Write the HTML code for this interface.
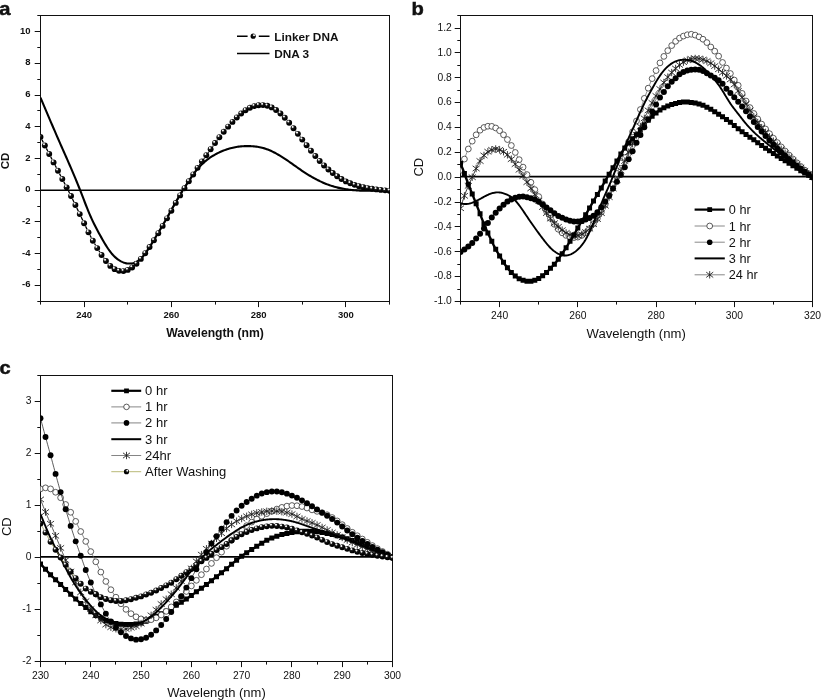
<!DOCTYPE html>
<html lang="en"><head><meta charset="utf-8"><title>CD spectra</title>
<style>html,body{margin:0;padding:0;background:#fff}svg{display:block}</style></head>
<body>
<svg width="821" height="700" viewBox="0 0 821 700">
<defs><radialGradient id="sg" cx="0.36" cy="0.30" r="0.5" fx="0.35" fy="0.28"><stop offset="0" stop-color="#fff"/><stop offset="0.18" stop-color="#eee"/><stop offset="0.46" stop-color="#1a1a1a"/><stop offset="1" stop-color="#000"/></radialGradient>
<circle id="sph" r="2.95" fill="url(#sg)"/>
<radialGradient id="sg2" cx="0.64" cy="0.32" r="0.5" fx="0.66" fy="0.30"><stop offset="0" stop-color="#fff"/><stop offset="0.2" stop-color="#eee"/><stop offset="0.5" stop-color="#1a1a1a"/><stop offset="1" stop-color="#000"/></radialGradient><circle id="sph2" r="2.6" fill="url(#sg2)"/>
<clipPath id="ca"><rect x="40.5" y="15.5" width="349.5" height="286"/></clipPath>
<clipPath id="cb"><rect x="460.5" y="15.5" width="352.5" height="286"/></clipPath>
<clipPath id="cc"><rect x="40.5" y="375.5" width="352.5" height="286"/></clipPath>
</defs>
<rect width="821" height="700" fill="#fff"/>
<rect x="40.5" y="15.5" width="349" height="286" fill="none" stroke="#111" stroke-width="1"/>
<path d="M84.5 301.5v5.6M171.5 301.5v5.6M258.5 301.5v5.6M345.5 301.5v5.6M40.5 301.5v3.1M127.5 301.5v3.1M215.5 301.5v3.1M302.5 301.5v3.1M389.5 301.5v3.1M40.5 285.5h-5.8M40.5 253.5h-5.8M40.5 221.5h-5.8M40.5 190.5h-5.8M40.5 158.5h-5.8M40.5 126.5h-5.8M40.5 95.5h-5.8M40.5 63.5h-5.8M40.5 31.5h-5.8M40.5 301.5h-3.2M40.5 269.5h-3.2M40.5 237.5h-3.2M40.5 206.5h-3.2M40.5 174.5h-3.2M40.5 142.5h-3.2M40.5 110.5h-3.2M40.5 79.5h-3.2M40.5 47.5h-3.2M40.5 15.5h-3.2" fill="none" stroke="#111" stroke-width="1"/>
<g font-family="'Liberation Sans', Arial, Helvetica, sans-serif" font-size="9.5" font-weight="bold" fill="#111">
<text x="84.12" y="318.2" text-anchor="middle">240</text>
<text x="171.38" y="318.2" text-anchor="middle">260</text>
<text x="258.62" y="318.2" text-anchor="middle">280</text>
<text x="345.88" y="318.2" text-anchor="middle">300</text>
<text x="30.5" y="287.38" text-anchor="end">-6</text>
<text x="30.5" y="255.66" text-anchor="end">-4</text>
<text x="30.5" y="223.94" text-anchor="end">-2</text>
<text x="30.5" y="192.22" text-anchor="end">0</text>
<text x="30.5" y="160.5" text-anchor="end">2</text>
<text x="30.5" y="128.78" text-anchor="end">4</text>
<text x="30.5" y="97.06" text-anchor="end">6</text>
<text x="30.5" y="65.34" text-anchor="end">8</text>
<text x="30.5" y="33.62" text-anchor="end">10</text>
</g>
<text x="215" y="337.3" text-anchor="middle" font-family="'Liberation Sans', Arial, Helvetica, sans-serif" font-size="12.2" font-weight="bold" fill="#111">Wavelength (nm)</text>
<text transform="translate(9.2 161) rotate(-90)" text-anchor="middle" font-family="'Liberation Sans', Arial, Helvetica, sans-serif" font-size="11.5" font-weight="bold" fill="#111">CD</text>
<g clip-path="url(#ca)">
<path d="M40.5 190.15H389.5" stroke="#000" stroke-width="1.5"/>
<path d="M42.01 139.89L43.36 142.51M46.37 148.39L47.72 151.01M50.74 156.88L52.07 159.46M55.12 165.31L56.42 167.78M59.49 173.62L60.77 176.06M63.84 181.9L65.15 184.43M68.16 190.31L69.55 193.08M72.48 198.99L73.95 202.01M76.82 207.95L78.34 211.12M81.17 217.08L82.71 220.34M85.56 226.3L87.05 229.4M90.02 235.3L91.32 237.78M94.53 243.54L95.54 245.26M98.99 250.88L99.8 252.14M103.49 257.61L104.02 258.36M142.85 256.31L143.19 255.87M147.09 250.54L147.67 249.71M151.37 244.24L152.12 243.09M155.66 237.52L156.55 236.08M159.97 230.43L160.97 228.74M164.3 223.04L165.36 221.21M168.64 215.48L169.74 213.54M172.99 207.8L174.12 205.8M177.39 200.07L178.45 198.23M181.82 192.56L182.74 191.06M186.22 185.45L187.07 184.1M190.59 178.51L191.42 177.21M195.01 171.68L195.73 170.6M199.42 165.13L200.04 164.22M203.82 158.8L204.37 158.02M208.19 152.64L208.72 151.91M212.55 146.53L213.09 145.77M216.97 140.43L217.4 139.85M295.53 130.8L295.88 131.25M299.88 136.5L300.26 137M304.26 142.25L304.61 142.7M308.66 147.91L308.92 148.24" fill="none" stroke="#000" stroke-width="1.3"/>
<path d="M40.5 97.6 L41.67 100.35 L42.83 103.1 L44 105.85 L45.16 108.6 L46.33 111.35 L47.5 114.09 L48.66 116.83 L49.83 119.56 L50.99 122.29 L52.16 125.01 L53.32 127.73 L54.49 130.43 L55.66 133.13 L56.82 135.82 L57.99 138.5 L59.15 141.17 L60.32 143.83 L61.49 146.48 L62.65 149.12 L63.82 151.76 L64.98 154.39 L66.15 157.03 L67.32 159.68 L68.48 162.33 L69.65 165 L70.81 167.69 L71.98 170.4 L73.14 173.13 L74.31 175.88 L75.48 178.67 L76.64 181.49 L77.81 184.35 L78.97 187.25 L80.14 190.19 L81.31 193.18 L82.47 196.2 L83.64 199.23 L84.8 202.25 L85.97 205.25 L87.14 208.19 L88.3 211.07 L89.47 213.86 L90.63 216.54 L91.8 219.12 L92.96 221.59 L94.13 223.98 L95.3 226.3 L96.46 228.55 L97.63 230.74 L98.79 232.9 L99.96 235.03 L101.13 237.13 L102.29 239.21 L103.46 241.25 L104.62 243.23 L105.79 245.15 L106.96 247 L108.12 248.77 L109.29 250.43 L110.45 251.99 L111.62 253.44 L112.78 254.77 L113.95 256 L115.12 257.13 L116.28 258.16 L117.45 259.09 L118.61 259.92 L119.78 260.67 L120.95 261.33 L122.11 261.9 L123.28 262.39 L124.44 262.8 L125.61 263.12 L126.78 263.35 L127.94 263.49 L129.11 263.56 L130.27 263.53 L131.44 263.41 L132.61 263.21 L133.77 262.91 L134.94 262.52 L136.1 262.04 L137.27 261.44 L138.43 260.72 L139.6 259.84 L140.77 258.8 L141.93 257.59 L143.1 256.25 L144.26 254.78 L145.43 253.21 L146.6 251.56 L147.76 249.84 L148.93 248.05 L150.09 246.21 L151.26 244.33 L152.43 242.42 L153.59 240.48 L154.76 238.54 L155.92 236.58 L157.09 234.62 L158.25 232.64 L159.42 230.66 L160.59 228.68 L161.75 226.69 L162.92 224.7 L164.08 222.71 L165.25 220.71 L166.42 218.69 L167.58 216.67 L168.75 214.63 L169.91 212.56 L171.08 210.48 L172.25 208.37 L173.41 206.25 L174.58 204.13 L175.74 202.02 L176.91 199.94 L178.07 197.9 L179.24 195.9 L180.41 193.97 L181.57 192.09 L182.74 190.26 L183.9 188.46 L185.07 186.69 L186.24 184.93 L187.4 183.16 L188.57 181.39 L189.73 179.61 L190.9 177.83 L192.07 176.09 L193.23 174.42 L194.4 172.82 L195.56 171.3 L196.73 169.85 L197.89 168.48 L199.06 167.18 L200.23 165.94 L201.39 164.77 L202.56 163.65 L203.72 162.59 L204.89 161.58 L206.06 160.62 L207.22 159.7 L208.39 158.83 L209.55 157.99 L210.72 157.2 L211.89 156.44 L213.05 155.72 L214.22 155.04 L215.38 154.38 L216.55 153.76 L217.71 153.17 L218.88 152.6 L220.05 152.06 L221.21 151.54 L222.38 151.04 L223.54 150.57 L224.71 150.13 L225.88 149.71 L227.04 149.31 L228.21 148.94 L229.37 148.59 L230.54 148.27 L231.71 147.97 L232.87 147.69 L234.04 147.44 L235.2 147.21 L236.37 147 L237.53 146.82 L238.7 146.66 L239.87 146.52 L241.03 146.4 L242.2 146.3 L243.36 146.22 L244.53 146.16 L245.7 146.12 L246.86 146.1 L248.03 146.1 L249.19 146.11 L250.36 146.14 L251.53 146.19 L252.69 146.26 L253.86 146.36 L255.02 146.47 L256.19 146.61 L257.35 146.78 L258.52 146.97 L259.69 147.19 L260.85 147.44 L262.02 147.71 L263.18 148.02 L264.35 148.37 L265.52 148.74 L266.68 149.15 L267.85 149.58 L269.01 150.05 L270.18 150.54 L271.35 151.06 L272.51 151.61 L273.68 152.19 L274.84 152.79 L276.01 153.41 L277.17 154.05 L278.34 154.72 L279.51 155.41 L280.67 156.11 L281.84 156.84 L283 157.58 L284.17 158.33 L285.34 159.1 L286.5 159.89 L287.67 160.68 L288.83 161.49 L290 162.3 L291.17 163.12 L292.33 163.95 L293.5 164.78 L294.66 165.61 L295.83 166.44 L296.99 167.27 L298.16 168.1 L299.33 168.92 L300.49 169.73 L301.66 170.53 L302.82 171.32 L303.99 172.09 L305.16 172.85 L306.32 173.59 L307.49 174.32 L308.65 175.04 L309.82 175.74 L310.99 176.42 L312.15 177.09 L313.32 177.75 L314.48 178.39 L315.65 179.01 L316.82 179.62 L317.98 180.21 L319.15 180.79 L320.31 181.36 L321.48 181.9 L322.64 182.43 L323.81 182.94 L324.98 183.44 L326.14 183.91 L327.31 184.37 L328.47 184.8 L329.64 185.22 L330.81 185.62 L331.97 185.99 L333.14 186.35 L334.3 186.69 L335.47 187.01 L336.64 187.32 L337.8 187.61 L338.97 187.88 L340.13 188.14 L341.3 188.38 L342.46 188.61 L343.63 188.83 L344.8 189.04 L345.96 189.23 L347.13 189.41 L348.29 189.57 L349.46 189.73 L350.63 189.87 L351.79 190 L352.96 190.12 L354.12 190.22 L355.29 190.31 L356.46 190.4 L357.62 190.47 L358.79 190.53 L359.95 190.59 L361.12 190.63 L362.28 190.67 L363.45 190.7 L364.62 190.73 L365.78 190.75 L366.95 190.77 L368.11 190.78 L369.28 190.79 L370.45 190.8 L371.61 190.8 L372.78 190.8 L373.94 190.8 L375.11 190.8 L376.28 190.8 L377.44 190.8 L378.61 190.8 L379.77 190.8 L380.94 190.8 L382.1 190.8 L383.27 190.8 L384.44 190.8 L385.6 190.8 L386.77 190.8 L387.93 190.8 L389.1 190.8" fill="none" stroke="#000" stroke-width="2.1" stroke-linejoin="round" />
<g><use href="#sph" x="40.5" y="136.95"/><use href="#sph" x="44.86" y="145.45"/><use href="#sph" x="49.23" y="153.95"/><use href="#sph" x="53.59" y="162.39"/><use href="#sph" x="57.95" y="170.7"/><use href="#sph" x="62.31" y="178.97"/><use href="#sph" x="66.67" y="187.36"/><use href="#sph" x="71.04" y="196.02"/><use href="#sph" x="75.4" y="204.97"/><use href="#sph" x="79.76" y="214.1"/><use href="#sph" x="84.12" y="223.32"/><use href="#sph" x="88.49" y="232.37"/><use href="#sph" x="92.85" y="240.7"/><use href="#sph" x="97.21" y="248.1"/><use href="#sph" x="101.58" y="254.93"/><use href="#sph" x="105.94" y="261.05"/><use href="#sph" x="110.3" y="265.9"/><use href="#sph" x="114.66" y="269.15"/><use href="#sph" x="119.03" y="270.85"/><use href="#sph" x="123.39" y="271.1"/><use href="#sph" x="127.75" y="269.9"/><use href="#sph" x="132.11" y="267.45"/><use href="#sph" x="136.47" y="263.77"/><use href="#sph" x="140.84" y="258.92"/><use href="#sph" x="145.2" y="253.25"/><use href="#sph" x="149.56" y="247"/><use href="#sph" x="153.93" y="240.32"/><use href="#sph" x="158.29" y="233.27"/><use href="#sph" x="162.65" y="225.9"/><use href="#sph" x="167.01" y="218.35"/><use href="#sph" x="171.38" y="210.68"/><use href="#sph" x="175.74" y="202.92"/><use href="#sph" x="180.1" y="195.38"/><use href="#sph" x="184.46" y="188.25"/><use href="#sph" x="188.82" y="181.3"/><use href="#sph" x="193.19" y="174.43"/><use href="#sph" x="197.55" y="167.85"/><use href="#sph" x="201.91" y="161.5"/><use href="#sph" x="206.28" y="155.32"/><use href="#sph" x="210.64" y="149.22"/><use href="#sph" x="215" y="143.07"/><use href="#sph" x="219.36" y="137.2"/><use href="#sph" x="223.72" y="131.77"/><use href="#sph" x="228.09" y="126.65"/><use href="#sph" x="232.45" y="121.88"/><use href="#sph" x="236.81" y="117.5"/><use href="#sph" x="241.18" y="113.55"/><use href="#sph" x="245.54" y="110.28"/><use href="#sph" x="249.9" y="107.8"/><use href="#sph" x="254.26" y="106.1"/><use href="#sph" x="258.62" y="105.2"/><use href="#sph" x="262.99" y="105.08"/><use href="#sph" x="267.35" y="105.77"/><use href="#sph" x="271.71" y="107.4"/><use href="#sph" x="276.07" y="109.98"/><use href="#sph" x="280.44" y="113.45"/><use href="#sph" x="284.8" y="117.75"/><use href="#sph" x="289.16" y="122.73"/><use href="#sph" x="293.52" y="128.18"/><use href="#sph" x="297.89" y="133.87"/><use href="#sph" x="302.25" y="139.62"/><use href="#sph" x="306.61" y="145.32"/><use href="#sph" x="310.98" y="150.82"/><use href="#sph" x="315.34" y="156.05"/><use href="#sph" x="319.7" y="160.95"/><use href="#sph" x="324.06" y="165.45"/><use href="#sph" x="328.43" y="169.5"/><use href="#sph" x="332.79" y="173.05"/><use href="#sph" x="337.15" y="176.22"/><use href="#sph" x="341.51" y="179.05"/><use href="#sph" x="345.88" y="181.4"/><use href="#sph" x="350.24" y="183.3"/><use href="#sph" x="354.6" y="184.85"/><use href="#sph" x="358.96" y="186.15"/><use href="#sph" x="363.32" y="187.22"/><use href="#sph" x="367.69" y="188.1"/><use href="#sph" x="372.05" y="188.82"/><use href="#sph" x="376.41" y="189.4"/><use href="#sph" x="380.77" y="189.9"/><use href="#sph" x="385.14" y="190.35"/><use href="#sph" x="389.5" y="190.7"/></g>
</g>
<text transform="translate(-0.8 15.3) scale(1.08 1)" font-family="'Liberation Sans', Arial, Helvetica, sans-serif" font-size="18.6" font-weight="bold" fill="#111" stroke="#111" stroke-width="0.5">a</text>
<path d="M237 36.2H247.6M258.8 36.2H269.5M237 53.6H269.5" stroke="#000" stroke-width="1.5" fill="none"/>
<use href="#sph2" x="253.2" y="36.2"/>
<g font-family="'Liberation Sans', Arial, Helvetica, sans-serif" font-size="11.8" font-weight="bold" fill="#111"><text x="274.2" y="40.6">Linker DNA</text><text x="274.2" y="58">DNA 3</text></g>
<rect x="460.5" y="15.5" width="352" height="286" fill="none" stroke="#111" stroke-width="1"/>
<path d="M499.5 301.5v5.6M577.5 301.5v5.6M656.5 301.5v5.6M734.5 301.5v5.6M812.5 301.5v5.6M460.5 301.5v3.1M538.5 301.5v3.1M616.5 301.5v3.1M695.5 301.5v3.1M773.5 301.5v3.1M460.5 301.5h-5.8M460.5 276.5h-5.8M460.5 251.5h-5.8M460.5 226.5h-5.8M460.5 202.5h-5.8M460.5 177.5h-5.8M460.5 152.5h-5.8M460.5 127.5h-5.8M460.5 102.5h-5.8M460.5 77.5h-5.8M460.5 52.5h-5.8M460.5 28.5h-5.8M460.5 289.5h-3.2M460.5 264.5h-3.2M460.5 239.5h-3.2M460.5 214.5h-3.2M460.5 189.5h-3.2M460.5 164.5h-3.2M460.5 139.5h-3.2M460.5 115.5h-3.2M460.5 90.5h-3.2M460.5 65.5h-3.2M460.5 40.5h-3.2M460.5 15.5h-3.2" fill="none" stroke="#111" stroke-width="1"/>
<g font-family="'Liberation Sans', Arial, Helvetica, sans-serif" font-size="10.3" font-weight="normal" fill="#111">
<text x="499.61" y="319.1" text-anchor="middle">240</text>
<text x="577.83" y="319.1" text-anchor="middle">260</text>
<text x="656.06" y="319.1" text-anchor="middle">280</text>
<text x="734.28" y="319.1" text-anchor="middle">300</text>
<text x="812.5" y="319.1" text-anchor="middle">320</text>
<text x="451.8" y="304.31" text-anchor="end">-1.0</text>
<text x="451.8" y="279.45" text-anchor="end">-0.8</text>
<text x="451.8" y="254.59" text-anchor="end">-0.6</text>
<text x="451.8" y="229.73" text-anchor="end">-0.4</text>
<text x="451.8" y="204.87" text-anchor="end">-0.2</text>
<text x="451.8" y="180.01" text-anchor="end">0.0</text>
<text x="451.8" y="155.15" text-anchor="end">0.2</text>
<text x="451.8" y="130.29" text-anchor="end">0.4</text>
<text x="451.8" y="105.43" text-anchor="end">0.6</text>
<text x="451.8" y="80.57" text-anchor="end">0.8</text>
<text x="451.8" y="55.71" text-anchor="end">1.0</text>
<text x="451.8" y="30.85" text-anchor="end">1.2</text>
</g>
<text x="636.2" y="337.8" text-anchor="middle" font-family="'Liberation Sans', Arial, Helvetica, sans-serif" font-size="13.1" font-weight="normal" fill="#111">Wavelength (nm)</text>
<text transform="translate(423.3 167.2) rotate(-90)" text-anchor="middle" font-family="'Liberation Sans', Arial, Helvetica, sans-serif" font-size="13" font-weight="normal" fill="#111">CD</text>
<g clip-path="url(#cb)">
<path d="M460.5 176.6H812.5" stroke="#000" stroke-width="1.6"/>
<path d="M460.5 170.36 L461.21 168.29 L461.91 166.22 L462.62 164.17 L463.32 162.14 L464.03 160.13 L464.73 158.16 L465.44 156.23 L466.14 154.35 L466.85 152.54 L467.55 150.79 L468.26 149.13 L468.96 147.55 L469.67 146.06 L470.38 144.63 L471.08 143.27 L471.79 141.96 L472.49 140.69 L473.2 139.46 L473.9 138.27 L474.61 137.13 L475.31 136.03 L476.02 134.99 L476.72 134.01 L477.43 133.09 L478.14 132.23 L478.84 131.44 L479.55 130.7 L480.25 130.04 L480.96 129.43 L481.66 128.88 L482.37 128.39 L483.07 127.96 L483.78 127.57 L484.48 127.24 L485.19 126.95 L485.89 126.7 L486.6 126.5 L487.31 126.34 L488.01 126.22 L488.72 126.14 L489.42 126.11 L490.13 126.12 L490.83 126.19 L491.54 126.31 L492.24 126.48 L492.95 126.7 L493.65 126.97 L494.36 127.29 L495.07 127.64 L495.77 128.02 L496.48 128.42 L497.18 128.86 L497.89 129.34 L498.59 129.87 L499.3 130.44 L500 131.07 L500.71 131.75 L501.41 132.48 L502.12 133.24 L502.82 134.03 L503.53 134.82 L504.24 135.63 L504.94 136.44 L505.65 137.27 L506.35 138.14 L507.06 139.04 L507.76 139.99 L508.47 140.98 L509.17 142.03 L509.88 143.11 L510.58 144.24 L511.29 145.41 L511.99 146.61 L512.7 147.85 L513.41 149.11 L514.11 150.38 L514.82 151.66 L515.52 152.95 L516.23 154.24 L516.93 155.53 L517.64 156.83 L518.34 158.14 L519.05 159.45 L519.75 160.78 L520.46 162.13 L521.17 163.47 L521.87 164.82 L522.58 166.17 L523.28 167.52 L523.99 168.86 L524.69 170.19 L525.4 171.53 L526.1 172.88 L526.81 174.24 L527.51 175.62 L528.22 177.01 L528.92 178.4 L529.63 179.8 L530.34 181.19 L531.04 182.57 L531.75 183.93 L532.45 185.28 L533.16 186.6 L533.86 187.91 L534.57 189.19 L535.27 190.46 L535.98 191.71 L536.68 192.95 L537.39 194.2 L538.1 195.46 L538.8 196.73 L539.51 198.04 L540.21 199.36 L540.92 200.7 L541.62 202.06 L542.33 203.42 L543.03 204.79 L543.74 206.15 L544.44 207.5 L545.15 208.85 L545.85 210.18 L546.56 211.49 L547.27 212.79 L547.97 214.07 L548.68 215.32 L549.38 216.55 L550.09 217.75 L550.79 218.92 L551.5 220.06 L552.2 221.17 L552.91 222.24 L553.61 223.28 L554.32 224.28 L555.03 225.24 L555.73 226.17 L556.44 227.06 L557.14 227.91 L557.85 228.72 L558.55 229.5 L559.26 230.23 L559.96 230.92 L560.67 231.58 L561.37 232.19 L562.08 232.77 L562.78 233.31 L563.49 233.82 L564.2 234.3 L564.9 234.74 L565.61 235.15 L566.31 235.53 L567.02 235.88 L567.72 236.2 L568.43 236.49 L569.13 236.75 L569.84 236.97 L570.54 237.17 L571.25 237.33 L571.95 237.45 L572.66 237.55 L573.37 237.6 L574.07 237.62 L574.78 237.6 L575.48 237.55 L576.19 237.46 L576.89 237.33 L577.6 237.17 L578.3 236.97 L579.01 236.73 L579.71 236.45 L580.42 236.14 L581.13 235.78 L581.83 235.39 L582.54 234.97 L583.24 234.5 L583.95 234 L584.65 233.46 L585.36 232.88 L586.06 232.27 L586.77 231.62 L587.47 230.94 L588.18 230.22 L588.88 229.46 L589.59 228.67 L590.3 227.85 L591 227 L591.71 226.12 L592.41 225.22 L593.12 224.3 L593.82 223.36 L594.53 222.4 L595.23 221.42 L595.94 220.43 L596.64 219.42 L597.35 218.4 L598.06 217.35 L598.76 216.27 L599.47 215.17 L600.17 214.02 L600.88 212.84 L601.58 211.62 L602.29 210.35 L602.99 209.02 L603.7 207.65 L604.4 206.22 L605.11 204.73 L605.81 203.19 L606.52 201.6 L607.23 199.95 L607.93 198.24 L608.64 196.47 L609.34 194.65 L610.05 192.77 L610.75 190.85 L611.46 188.9 L612.16 186.92 L612.87 184.92 L613.57 182.92 L614.28 180.91 L614.98 178.93 L615.69 176.96 L616.4 175.02 L617.1 173.09 L617.81 171.18 L618.51 169.28 L619.22 167.37 L619.92 165.46 L620.63 163.53 L621.33 161.58 L622.04 159.62 L622.74 157.65 L623.45 155.68 L624.16 153.72 L624.86 151.77 L625.57 149.84 L626.27 147.94 L626.98 146.08 L627.68 144.26 L628.39 142.46 L629.09 140.69 L629.8 138.92 L630.5 137.14 L631.21 135.35 L631.91 133.54 L632.62 131.69 L633.33 129.81 L634.03 127.9 L634.74 125.95 L635.44 123.98 L636.15 121.98 L636.85 119.95 L637.56 117.9 L638.26 115.84 L638.97 113.76 L639.67 111.68 L640.38 109.6 L641.09 107.53 L641.79 105.47 L642.5 103.44 L643.2 101.45 L643.91 99.5 L644.61 97.6 L645.32 95.73 L646.02 93.89 L646.73 92.06 L647.43 90.23 L648.14 88.4 L648.84 86.57 L649.55 84.77 L650.26 83.01 L650.96 81.31 L651.67 79.68 L652.37 78.13 L653.08 76.63 L653.78 75.18 L654.49 73.75 L655.19 72.33 L655.9 70.89 L656.6 69.45 L657.31 68.02 L658.02 66.6 L658.72 65.22 L659.43 63.88 L660.13 62.6 L660.84 61.36 L661.54 60.16 L662.25 58.99 L662.95 57.85 L663.66 56.73 L664.36 55.63 L665.07 54.55 L665.77 53.5 L666.48 52.47 L667.19 51.46 L667.89 50.48 L668.6 49.52 L669.3 48.59 L670.01 47.68 L670.71 46.79 L671.42 45.93 L672.12 45.09 L672.83 44.28 L673.53 43.49 L674.24 42.73 L674.94 41.99 L675.65 41.29 L676.36 40.62 L677.06 39.98 L677.77 39.39 L678.47 38.83 L679.18 38.33 L679.88 37.86 L680.59 37.45 L681.29 37.06 L682 36.71 L682.7 36.39 L683.41 36.09 L684.12 35.8 L684.82 35.54 L685.53 35.29 L686.23 35.07 L686.94 34.86 L687.64 34.68 L688.35 34.52 L689.05 34.39 L689.76 34.3 L690.46 34.25 L691.17 34.25 L691.87 34.3 L692.58 34.41 L693.29 34.55 L693.99 34.74 L694.7 34.96 L695.4 35.21 L696.11 35.48 L696.81 35.78 L697.52 36.1 L698.22 36.43 L698.93 36.79 L699.63 37.16 L700.34 37.55 L701.05 37.96 L701.75 38.4 L702.46 38.86 L703.16 39.35 L703.87 39.87 L704.57 40.43 L705.28 41.03 L705.98 41.67 L706.69 42.37 L707.39 43.11 L708.1 43.89 L708.8 44.7 L709.51 45.52 L710.22 46.33 L710.92 47.11 L711.63 47.87 L712.33 48.62 L713.04 49.36 L713.74 50.1 L714.45 50.86 L715.15 51.64 L715.86 52.45 L716.56 53.31 L717.27 54.21 L717.97 55.17 L718.68 56.2 L719.39 57.3 L720.09 58.44 L720.8 59.61 L721.5 60.79 L722.21 61.94 L722.91 63.05 L723.62 64.12 L724.32 65.16 L725.03 66.16 L725.73 67.13 L726.44 68.06 L727.15 68.98 L727.85 69.91 L728.56 70.85 L729.26 71.84 L729.97 72.9 L730.67 74.04 L731.38 75.25 L732.08 76.5 L732.79 77.73 L733.49 78.9 L734.2 79.95 L734.9 80.9 L735.61 81.79 L736.32 82.67 L737.02 83.59 L737.73 84.6 L738.43 85.76 L739.14 87.08 L739.84 88.52 L740.55 90.03 L741.25 91.56 L741.96 93.09 L742.66 94.57 L743.37 96 L744.08 97.39 L744.78 98.75 L745.49 100.06 L746.19 101.35 L746.9 102.59 L747.6 103.81 L748.31 105 L749.01 106.16 L749.72 107.29 L750.42 108.4 L751.13 109.49 L751.83 110.56 L752.54 111.61 L753.25 112.65 L753.95 113.67 L754.66 114.69 L755.36 115.68 L756.07 116.67 L756.77 117.65 L757.48 118.61 L758.18 119.57 L758.89 120.51 L759.59 121.44 L760.3 122.37 L761.01 123.28 L761.71 124.19 L762.42 125.09 L763.12 125.98 L763.83 126.86 L764.53 127.74 L765.24 128.61 L765.94 129.47 L766.65 130.32 L767.35 131.17 L768.06 132.02 L768.76 132.85 L769.47 133.68 L770.18 134.51 L770.88 135.33 L771.59 136.15 L772.29 136.96 L773 137.77 L773.7 138.58 L774.41 139.38 L775.11 140.18 L775.82 140.97 L776.52 141.76 L777.23 142.54 L777.93 143.33 L778.64 144.1 L779.35 144.88 L780.05 145.65 L780.76 146.41 L781.46 147.18 L782.17 147.93 L782.87 148.69 L783.58 149.44 L784.28 150.18 L784.99 150.92 L785.69 151.66 L786.4 152.39 L787.11 153.12 L787.81 153.84 L788.52 154.56 L789.22 155.28 L789.93 155.99 L790.63 156.7 L791.34 157.4 L792.04 158.1 L792.75 158.8 L793.45 159.49 L794.16 160.18 L794.86 160.87 L795.57 161.55 L796.28 162.23 L796.98 162.9 L797.69 163.58 L798.39 164.25 L799.1 164.91 L799.8 165.58 L800.51 166.24 L801.21 166.9 L801.92 167.55 L802.62 168.21 L803.33 168.86 L804.04 169.51 L804.74 170.15 L805.45 170.8 L806.15 171.44 L806.86 172.09 L807.56 172.73 L808.27 173.37 L808.97 174.01 L809.68 174.65 L810.38 175.29 L811.09 175.92 L811.79 176.56 L812.5 177.2" fill="none" stroke="#777" stroke-width="0.8" stroke-linejoin="round" />
<g fill="#fff" stroke="#333" stroke-width="0.8"><circle cx="460.5" cy="170.36" r="2.9"/><circle cx="464.41" cy="159.05" r="2.9"/><circle cx="468.32" cy="148.98" r="2.9"/><circle cx="472.23" cy="141.15" r="2.9"/><circle cx="476.14" cy="134.81" r="2.9"/><circle cx="480.06" cy="130.21" r="2.9"/><circle cx="483.97" cy="127.48" r="2.9"/><circle cx="487.88" cy="126.24" r="2.9"/><circle cx="491.79" cy="126.36" r="2.9"/><circle cx="495.7" cy="127.98" r="2.9"/><circle cx="499.61" cy="130.71" r="2.9"/><circle cx="503.52" cy="134.81" r="2.9"/><circle cx="507.43" cy="139.54" r="2.9"/><circle cx="511.34" cy="145.5" r="2.9"/><circle cx="515.26" cy="152.46" r="2.9"/><circle cx="519.17" cy="159.67" r="2.9"/><circle cx="523.08" cy="167.13" r="2.9"/><circle cx="526.99" cy="174.59" r="2.9"/><circle cx="530.9" cy="182.3" r="2.9"/><circle cx="534.81" cy="189.63" r="2.9"/><circle cx="538.72" cy="196.59" r="2.9"/><circle cx="542.63" cy="204.01" r="2.9"/><circle cx="546.54" cy="211.46" r="2.9"/><circle cx="550.46" cy="218.37" r="2.9"/><circle cx="554.37" cy="224.34" r="2.9"/><circle cx="558.28" cy="229.2" r="2.9"/><circle cx="562.19" cy="232.86" r="2.9"/><circle cx="566.1" cy="235.42" r="2.9"/><circle cx="570.01" cy="237.02" r="2.9"/><circle cx="573.92" cy="237.62" r="2.9"/><circle cx="577.83" cy="237.11" r="2.9"/><circle cx="581.74" cy="235.44" r="2.9"/><circle cx="585.66" cy="232.63" r="2.9"/><circle cx="589.57" cy="228.7" r="2.9"/><circle cx="593.48" cy="223.82" r="2.9"/><circle cx="597.39" cy="218.34" r="2.9"/><circle cx="601.3" cy="212.11" r="2.9"/><circle cx="605.21" cy="204.51" r="2.9"/><circle cx="609.12" cy="195.22" r="2.9"/><circle cx="613.03" cy="184.45" r="2.9"/><circle cx="616.94" cy="173.52" r="2.9"/><circle cx="620.86" cy="162.91" r="2.9"/><circle cx="624.77" cy="152.02" r="2.9"/><circle cx="628.68" cy="141.73" r="2.9"/><circle cx="632.59" cy="131.77" r="2.9"/><circle cx="636.5" cy="120.96" r="2.9"/><circle cx="640.41" cy="109.51" r="2.9"/><circle cx="644.32" cy="98.38" r="2.9"/><circle cx="648.23" cy="88.16" r="2.9"/><circle cx="652.14" cy="78.62" r="2.9"/><circle cx="656.06" cy="70.57" r="2.9"/><circle cx="659.97" cy="62.89" r="2.9"/><circle cx="663.88" cy="56.39" r="2.9"/><circle cx="667.79" cy="50.62" r="2.9"/><circle cx="671.7" cy="45.59" r="2.9"/><circle cx="675.61" cy="41.33" r="2.9"/><circle cx="679.52" cy="38.09" r="2.9"/><circle cx="683.43" cy="36.08" r="2.9"/><circle cx="687.34" cy="34.75" r="2.9"/><circle cx="691.26" cy="34.25" r="2.9"/><circle cx="695.17" cy="35.13" r="2.9"/><circle cx="699.08" cy="36.87" r="2.9"/><circle cx="702.99" cy="39.23" r="2.9"/><circle cx="706.9" cy="42.58" r="2.9"/><circle cx="710.81" cy="46.99" r="2.9"/><circle cx="714.72" cy="51.16" r="2.9"/><circle cx="718.63" cy="56.13" r="2.9"/><circle cx="722.54" cy="62.47" r="2.9"/><circle cx="726.46" cy="68.08" r="2.9"/><circle cx="730.37" cy="73.53" r="2.9"/><circle cx="734.28" cy="80.06" r="2.9"/><circle cx="738.19" cy="85.34" r="2.9"/><circle cx="742.1" cy="93.39" r="2.9"/><circle cx="746.01" cy="101.02" r="2.9"/><circle cx="749.92" cy="107.61" r="2.9"/><circle cx="753.83" cy="113.5" r="2.9"/><circle cx="757.74" cy="118.97" r="2.9"/><circle cx="761.66" cy="124.12" r="2.9"/><circle cx="765.57" cy="129.01" r="2.9"/><circle cx="769.48" cy="133.69" r="2.9"/><circle cx="773.39" cy="138.22" r="2.9"/><circle cx="777.3" cy="142.62" r="2.9"/><circle cx="781.21" cy="146.91" r="2.9"/><circle cx="785.12" cy="151.06" r="2.9"/><circle cx="789.03" cy="155.09" r="2.9"/><circle cx="792.94" cy="158.99" r="2.9"/><circle cx="796.86" cy="162.78" r="2.9"/><circle cx="800.77" cy="166.48" r="2.9"/><circle cx="804.68" cy="170.1" r="2.9"/><circle cx="808.59" cy="173.66" r="2.9"/><circle cx="812.5" cy="177.2" r="2.9"/></g>
<path d="M460.5 208.27 L461.21 205.93 L461.91 203.61 L462.62 201.33 L463.32 199.11 L464.03 196.97 L464.73 194.93 L465.44 192.99 L466.14 191.15 L466.85 189.39 L467.55 187.69 L468.26 186.05 L468.96 184.44 L469.67 182.86 L470.38 181.3 L471.08 179.75 L471.79 178.19 L472.49 176.62 L473.2 175.03 L473.9 173.44 L474.61 171.86 L475.31 170.29 L476.02 168.77 L476.72 167.29 L477.43 165.86 L478.14 164.48 L478.84 163.17 L479.55 161.91 L480.25 160.72 L480.96 159.59 L481.66 158.52 L482.37 157.51 L483.07 156.56 L483.78 155.67 L484.48 154.84 L485.19 154.07 L485.89 153.36 L486.6 152.71 L487.31 152.13 L488.01 151.63 L488.72 151.19 L489.42 150.82 L490.13 150.49 L490.83 150.2 L491.54 149.94 L492.24 149.7 L492.95 149.47 L493.65 149.27 L494.36 149.12 L495.07 149.02 L495.77 148.98 L496.48 149.02 L497.18 149.13 L497.89 149.29 L498.59 149.5 L499.3 149.74 L500 150 L500.71 150.29 L501.41 150.6 L502.12 150.93 L502.82 151.31 L503.53 151.72 L504.24 152.18 L504.94 152.68 L505.65 153.23 L506.35 153.83 L507.06 154.47 L507.76 155.15 L508.47 155.88 L509.17 156.65 L509.88 157.44 L510.58 158.27 L511.29 159.11 L511.99 159.97 L512.7 160.84 L513.41 161.73 L514.11 162.64 L514.82 163.56 L515.52 164.51 L516.23 165.47 L516.93 166.46 L517.64 167.47 L518.34 168.5 L519.05 169.56 L519.75 170.65 L520.46 171.76 L521.17 172.88 L521.87 174.01 L522.58 175.15 L523.28 176.28 L523.99 177.41 L524.69 178.53 L525.4 179.65 L526.1 180.77 L526.81 181.89 L527.51 183 L528.22 184.12 L528.92 185.25 L529.63 186.37 L530.34 187.49 L531.04 188.61 L531.75 189.73 L532.45 190.85 L533.16 191.98 L533.86 193.1 L534.57 194.22 L535.27 195.34 L535.98 196.46 L536.68 197.57 L537.39 198.7 L538.1 199.82 L538.8 200.94 L539.51 202.07 L540.21 203.2 L540.92 204.32 L541.62 205.45 L542.33 206.57 L543.03 207.69 L543.74 208.8 L544.44 209.9 L545.15 210.99 L545.85 212.07 L546.56 213.14 L547.27 214.18 L547.97 215.21 L548.68 216.21 L549.38 217.18 L550.09 218.13 L550.79 219.04 L551.5 219.92 L552.2 220.77 L552.91 221.57 L553.61 222.35 L554.32 223.09 L555.03 223.81 L555.73 224.51 L556.44 225.18 L557.14 225.83 L557.85 226.47 L558.55 227.1 L559.26 227.71 L559.96 228.32 L560.67 228.92 L561.37 229.5 L562.08 230.07 L562.78 230.62 L563.49 231.15 L564.2 231.65 L564.9 232.14 L565.61 232.6 L566.31 233.03 L567.02 233.43 L567.72 233.8 L568.43 234.14 L569.13 234.45 L569.84 234.72 L570.54 234.97 L571.25 235.18 L571.95 235.36 L572.66 235.5 L573.37 235.62 L574.07 235.7 L574.78 235.75 L575.48 235.76 L576.19 235.75 L576.89 235.69 L577.6 235.61 L578.3 235.49 L579.01 235.33 L579.71 235.14 L580.42 234.91 L581.13 234.64 L581.83 234.34 L582.54 234 L583.24 233.62 L583.95 233.21 L584.65 232.76 L585.36 232.27 L586.06 231.75 L586.77 231.19 L587.47 230.6 L588.18 229.97 L588.88 229.31 L589.59 228.61 L590.3 227.89 L591 227.13 L591.71 226.34 L592.41 225.52 L593.12 224.68 L593.82 223.81 L594.53 222.92 L595.23 222.01 L595.94 221.08 L596.64 220.12 L597.35 219.15 L598.06 218.15 L598.76 217.12 L599.47 216.06 L600.17 214.96 L600.88 213.83 L601.58 212.65 L602.29 211.42 L602.99 210.13 L603.7 208.8 L604.4 207.4 L605.11 205.95 L605.81 204.46 L606.52 202.94 L607.23 201.39 L607.93 199.81 L608.64 198.22 L609.34 196.63 L610.05 195.04 L610.75 193.46 L611.46 191.9 L612.16 190.35 L612.87 188.82 L613.57 187.3 L614.28 185.77 L614.98 184.24 L615.69 182.69 L616.4 181.13 L617.1 179.54 L617.81 177.92 L618.51 176.27 L619.22 174.58 L619.92 172.87 L620.63 171.14 L621.33 169.39 L622.04 167.65 L622.74 165.91 L623.45 164.19 L624.16 162.49 L624.86 160.82 L625.57 159.19 L626.27 157.58 L626.98 156.01 L627.68 154.45 L628.39 152.9 L629.09 151.36 L629.8 149.82 L630.5 148.27 L631.21 146.72 L631.91 145.15 L632.62 143.57 L633.33 142 L634.03 140.42 L634.74 138.84 L635.44 137.27 L636.15 135.71 L636.85 134.17 L637.56 132.63 L638.26 131.12 L638.97 129.61 L639.67 128.11 L640.38 126.62 L641.09 125.14 L641.79 123.66 L642.5 122.18 L643.2 120.71 L643.91 119.24 L644.61 117.78 L645.32 116.32 L646.02 114.87 L646.73 113.43 L647.43 112.01 L648.14 110.6 L648.84 109.2 L649.55 107.83 L650.26 106.47 L650.96 105.14 L651.67 103.82 L652.37 102.52 L653.08 101.24 L653.78 99.97 L654.49 98.71 L655.19 97.46 L655.9 96.21 L656.6 94.97 L657.31 93.72 L658.02 92.48 L658.72 91.23 L659.43 89.99 L660.13 88.75 L660.84 87.53 L661.54 86.33 L662.25 85.16 L662.95 84.01 L663.66 82.89 L664.36 81.81 L665.07 80.77 L665.77 79.77 L666.48 78.81 L667.19 77.89 L667.89 76.99 L668.6 76.13 L669.3 75.29 L670.01 74.48 L670.71 73.68 L671.42 72.9 L672.12 72.13 L672.83 71.37 L673.53 70.63 L674.24 69.89 L674.94 69.17 L675.65 68.47 L676.36 67.78 L677.06 67.11 L677.77 66.46 L678.47 65.84 L679.18 65.24 L679.88 64.67 L680.59 64.12 L681.29 63.6 L682 63.1 L682.7 62.64 L683.41 62.19 L684.12 61.78 L684.82 61.39 L685.53 61.02 L686.23 60.68 L686.94 60.37 L687.64 60.08 L688.35 59.81 L689.05 59.57 L689.76 59.35 L690.46 59.16 L691.17 59 L691.87 58.85 L692.58 58.74 L693.29 58.64 L693.99 58.57 L694.7 58.52 L695.4 58.5 L696.11 58.5 L696.81 58.52 L697.52 58.56 L698.22 58.63 L698.93 58.71 L699.63 58.82 L700.34 58.95 L701.05 59.1 L701.75 59.27 L702.46 59.46 L703.16 59.67 L703.87 59.89 L704.57 60.14 L705.28 60.4 L705.98 60.69 L706.69 60.99 L707.39 61.32 L708.1 61.66 L708.8 62.03 L709.51 62.43 L710.22 62.84 L710.92 63.28 L711.63 63.75 L712.33 64.23 L713.04 64.74 L713.74 65.26 L714.45 65.8 L715.15 66.35 L715.86 66.91 L716.56 67.49 L717.27 68.07 L717.97 68.67 L718.68 69.26 L719.39 69.86 L720.09 70.47 L720.8 71.07 L721.5 71.68 L722.21 72.29 L722.91 72.89 L723.62 73.5 L724.32 74.09 L725.03 74.69 L725.73 75.28 L726.44 75.87 L727.15 76.46 L727.85 77.07 L728.56 77.7 L729.26 78.35 L729.97 79.05 L730.67 79.79 L731.38 80.57 L732.08 81.42 L732.79 82.34 L733.49 83.32 L734.2 84.37 L734.9 85.46 L735.61 86.61 L736.32 87.78 L737.02 88.98 L737.73 90.19 L738.43 91.41 L739.14 92.62 L739.84 93.82 L740.55 95 L741.25 96.16 L741.96 97.3 L742.66 98.44 L743.37 99.57 L744.08 100.71 L744.78 101.85 L745.49 103 L746.19 104.16 L746.9 105.34 L747.6 106.54 L748.31 107.74 L749.01 108.94 L749.72 110.15 L750.42 111.34 L751.13 112.53 L751.83 113.7 L752.54 114.85 L753.25 115.98 L753.95 117.08 L754.66 118.16 L755.36 119.2 L756.07 120.22 L756.77 121.22 L757.48 122.19 L758.18 123.15 L758.89 124.08 L759.59 125 L760.3 125.91 L761.01 126.8 L761.71 127.68 L762.42 128.56 L763.12 129.42 L763.83 130.28 L764.53 131.12 L765.24 131.96 L765.94 132.8 L766.65 133.62 L767.35 134.44 L768.06 135.25 L768.76 136.05 L769.47 136.85 L770.18 137.64 L770.88 138.43 L771.59 139.2 L772.29 139.98 L773 140.74 L773.7 141.5 L774.41 142.26 L775.11 143.01 L775.82 143.76 L776.52 144.5 L777.23 145.23 L777.93 145.96 L778.64 146.69 L779.35 147.41 L780.05 148.13 L780.76 148.85 L781.46 149.56 L782.17 150.27 L782.87 150.97 L783.58 151.67 L784.28 152.37 L784.99 153.07 L785.69 153.76 L786.4 154.45 L787.11 155.14 L787.81 155.82 L788.52 156.5 L789.22 157.18 L789.93 157.86 L790.63 158.53 L791.34 159.19 L792.04 159.86 L792.75 160.51 L793.45 161.17 L794.16 161.82 L794.86 162.46 L795.57 163.1 L796.28 163.74 L796.98 164.37 L797.69 165 L798.39 165.62 L799.1 166.23 L799.8 166.84 L800.51 167.44 L801.21 168.04 L801.92 168.64 L802.62 169.23 L803.33 169.81 L804.04 170.39 L804.74 170.97 L805.45 171.55 L806.15 172.12 L806.86 172.69 L807.56 173.26 L808.27 173.83 L808.97 174.39 L809.68 174.96 L810.38 175.52 L811.09 176.08 L811.79 176.64 L812.5 177.2" fill="none" stroke="#333" stroke-width="1.0" stroke-linejoin="round" />
<path d="M460.5 204.57v7.4M456.99 205.61l7.03 5.33M456.99 210.94l7.03 -5.33M464.41 192.15v7.4M460.9 193.18l7.03 5.33M460.9 198.51l7.03 -5.33M468.32 182.2v7.4M464.81 183.24l7.03 5.33M464.81 188.56l7.03 -5.33M472.23 173.5v7.4M468.72 174.54l7.03 5.33M468.72 179.86l7.03 -5.33M476.14 164.8v7.4M472.63 165.84l7.03 5.33M472.63 171.16l7.03 -5.33M480.06 157.34v7.4M476.54 158.38l7.03 5.33M476.54 163.7l7.03 -5.33M483.97 151.75v7.4M480.45 152.78l7.03 5.33M480.45 158.11l7.03 -5.33M487.88 148.02v7.4M484.36 149.05l7.03 5.33M484.36 154.38l7.03 -5.33M491.79 146.15v7.4M488.27 147.19l7.03 5.33M488.27 152.52l7.03 -5.33M495.7 145.28v7.4M492.19 146.32l7.03 5.33M492.19 151.65l7.03 -5.33M499.61 146.15v7.4M496.1 147.19l7.03 5.33M496.1 152.52l7.03 -5.33M503.52 148.02v7.4M500.01 149.05l7.03 5.33M500.01 154.38l7.03 -5.33M507.43 151.13v7.4M503.92 152.16l7.03 5.33M503.92 157.49l7.03 -5.33M511.34 155.48v7.4M507.83 156.51l7.03 5.33M507.83 161.84l7.03 -5.33M515.26 160.45v7.4M511.74 161.48l7.03 5.33M511.74 166.81l7.03 -5.33M519.17 166.04v7.4M515.65 167.08l7.03 5.33M515.65 172.41l7.03 -5.33M523.08 172.26v7.4M519.56 173.29l7.03 5.33M519.56 178.62l7.03 -5.33M526.99 178.47v7.4M523.47 179.51l7.03 5.33M523.47 184.84l7.03 -5.33M530.9 184.69v7.4M527.38 185.72l7.03 5.33M527.38 191.05l7.03 -5.33M534.81 190.9v7.4M531.3 191.94l7.03 5.33M531.3 197.27l7.03 -5.33M538.72 197.12v7.4M535.21 198.15l7.03 5.33M535.21 203.48l7.03 -5.33M542.63 203.36v7.4M539.12 204.39l7.03 5.33M539.12 209.72l7.03 -5.33M546.54 209.41v7.4M543.03 210.45l7.03 5.33M543.03 215.78l7.03 -5.33M550.46 214.91v7.4M546.94 215.95l7.03 5.33M546.94 221.28l7.03 -5.33M554.37 219.44v7.4M550.85 220.48l7.03 5.33M550.85 225.81l7.03 -5.33M558.28 223.16v7.4M554.76 224.19l7.03 5.33M554.76 229.52l7.03 -5.33M562.19 226.45v7.4M558.67 227.49l7.03 5.33M558.67 232.82l7.03 -5.33M566.1 229.2v7.4M562.59 230.24l7.03 5.33M562.59 235.57l7.03 -5.33M570.01 231.08v7.4M566.5 232.12l7.03 5.33M566.5 237.45l7.03 -5.33M573.92 231.99v7.4M570.41 233.02l7.03 5.33M570.41 238.35l7.03 -5.33M577.83 231.87v7.4M574.32 232.91l7.03 5.33M574.32 238.23l7.03 -5.33M581.74 230.68v7.4M578.23 231.71l7.03 5.33M578.23 237.04l7.03 -5.33M585.66 228.35v7.4M582.14 229.39l7.03 5.33M582.14 234.72l7.03 -5.33M589.57 224.94v7.4M586.05 225.97l7.03 5.33M586.05 231.3l7.03 -5.33M593.48 220.54v7.4M589.96 221.58l7.03 5.33M589.96 226.91l7.03 -5.33M597.39 215.39v7.4M593.87 216.43l7.03 5.33M593.87 221.76l7.03 -5.33M601.3 209.42v7.4M597.78 210.46l7.03 5.33M597.78 215.79l7.03 -5.33M605.21 202.04v7.4M601.7 203.08l7.03 5.33M601.7 208.41l7.03 -5.33M609.12 193.43v7.4M605.61 194.46l7.03 5.33M605.61 199.79l7.03 -5.33M613.03 184.76v7.4M609.52 185.8l7.03 5.33M609.52 191.13l7.03 -5.33M616.94 176.2v7.4M613.43 177.23l7.03 5.33M613.43 182.56l7.03 -5.33M620.86 166.88v7.4M617.34 167.91l7.03 5.33M617.34 173.24l7.03 -5.33M624.77 157.34v7.4M621.25 158.38l7.03 5.33M621.25 163.7l7.03 -5.33M628.68 148.57v7.4M625.16 149.6l7.03 5.33M625.16 154.93l7.03 -5.33M632.59 139.94v7.4M629.07 140.98l7.03 5.33M629.07 146.31l7.03 -5.33M636.5 131.24v7.4M632.99 132.27l7.03 5.33M632.99 137.6l7.03 -5.33M640.41 122.85v7.4M636.9 123.89l7.03 5.33M636.9 129.22l7.03 -5.33M644.32 114.68v7.4M640.81 115.72l7.03 5.33M640.81 121.04l7.03 -5.33M648.23 106.71v7.4M644.72 107.75l7.03 5.33M644.72 113.07l7.03 -5.33M652.14 99.24v7.4M648.63 100.28l7.03 5.33M648.63 105.6l7.03 -5.33M656.06 92.23v7.4M652.54 93.27l7.03 5.33M652.54 98.6l7.03 -5.33M659.97 85.34v7.4M656.45 86.38l7.03 5.33M656.45 91.7l7.03 -5.33M663.88 78.85v7.4M660.36 79.88l7.03 5.33M660.36 85.21l7.03 -5.33M667.79 73.42v7.4M664.27 74.46l7.03 5.33M664.27 79.79l7.03 -5.33M671.7 68.89v7.4M668.19 69.93l7.03 5.33M668.19 75.26l7.03 -5.33M675.61 64.8v7.4M672.1 65.84l7.03 5.33M672.1 71.17l7.03 -5.33M679.52 61.26v7.4M676.01 62.29l7.03 5.33M676.01 67.62l7.03 -5.33M683.43 58.48v7.4M679.92 59.51l7.03 5.33M679.92 64.84l7.03 -5.33M687.34 56.49v7.4M683.83 57.53l7.03 5.33M683.83 62.86l7.03 -5.33M691.26 55.28v7.4M687.74 56.31l7.03 5.33M687.74 61.64l7.03 -5.33M695.17 54.8v7.4M691.65 55.84l7.03 5.33M691.65 61.17l7.03 -5.33M699.08 55.04v7.4M695.56 56.07l7.03 5.33M695.56 61.4l7.03 -5.33M702.99 55.92v7.4M699.47 56.95l7.03 5.33M699.47 62.28l7.03 -5.33M706.9 57.39v7.4M703.38 58.42l7.03 5.33M703.38 63.75l7.03 -5.33M710.81 59.51v7.4M707.3 60.55l7.03 5.33M707.3 65.88l7.03 -5.33M714.72 62.31v7.4M711.21 63.35l7.03 5.33M711.21 68.67l7.03 -5.33M718.63 65.52v7.4M715.12 66.56l7.03 5.33M715.12 71.89l7.03 -5.33M722.54 68.88v7.4M719.03 69.91l7.03 5.33M719.03 75.24l7.03 -5.33M726.46 72.18v7.4M722.94 73.22l7.03 5.33M722.94 78.54l7.03 -5.33M730.37 75.76v7.4M726.85 76.8l7.03 5.33M726.85 82.12l7.03 -5.33M734.28 80.78v7.4M730.76 81.82l7.03 5.33M730.76 87.15l7.03 -5.33M738.19 87.29v7.4M734.67 88.33l7.03 5.33M734.67 93.66l7.03 -5.33M742.1 93.83v7.4M738.59 94.87l7.03 5.33M738.59 100.2l7.03 -5.33M746.01 100.16v7.4M742.5 101.2l7.03 5.33M742.5 106.53l7.03 -5.33M749.92 106.79v7.4M746.41 107.83l7.03 5.33M746.41 113.16l7.03 -5.33M753.83 113.2v7.4M750.32 114.24l7.03 5.33M750.32 119.57l7.03 -5.33M757.74 118.85v7.4M754.23 119.89l7.03 5.33M754.23 125.22l7.03 -5.33M761.66 123.92v7.4M758.14 124.95l7.03 5.33M758.14 130.28l7.03 -5.33M765.57 128.65v7.4M762.05 129.69l7.03 5.33M762.05 135.02l7.03 -5.33M769.48 133.16v7.4M765.96 134.2l7.03 5.33M765.96 139.52l7.03 -5.33M773.39 137.47v7.4M769.87 138.5l7.03 5.33M769.87 143.83l7.03 -5.33M777.3 141.61v7.4M773.78 142.64l7.03 5.33M773.78 147.97l7.03 -5.33M781.21 145.61v7.4M777.7 146.64l7.03 5.33M777.7 151.97l7.03 -5.33M785.12 149.5v7.4M781.61 150.53l7.03 5.33M781.61 155.86l7.03 -5.33M789.03 153.3v7.4M785.52 154.34l7.03 5.33M785.52 159.66l7.03 -5.33M792.94 157v7.4M789.43 158.03l7.03 5.33M789.43 163.36l7.03 -5.33M796.86 160.56v7.4M793.34 161.59l7.03 5.33M793.34 166.92l7.03 -5.33M800.77 163.96v7.4M797.25 165l7.03 5.33M797.25 170.33l7.03 -5.33M804.68 167.22v7.4M801.16 168.26l7.03 5.33M801.16 173.59l7.03 -5.33M808.59 170.38v7.4M805.07 171.42l7.03 5.33M805.07 176.75l7.03 -5.33M812.5 173.5v7.4M808.99 174.54l7.03 5.33M808.99 179.86l7.03 -5.33" fill="none" stroke="#1a1a1a" stroke-width="0.85"/>
<path d="M460.5 163.15 L461.21 164.99 L461.91 166.82 L462.62 168.67 L463.32 170.54 L464.03 172.43 L464.73 174.35 L465.44 176.29 L466.14 178.24 L466.85 180.19 L467.55 182.11 L468.26 184 L468.96 185.83 L469.67 187.63 L470.38 189.39 L471.08 191.14 L471.79 192.88 L472.49 194.62 L473.2 196.37 L473.9 198.14 L474.61 199.91 L475.31 201.69 L476.02 203.48 L476.72 205.28 L477.43 207.08 L478.14 208.89 L478.84 210.71 L479.55 212.54 L480.25 214.38 L480.96 216.22 L481.66 218.06 L482.37 219.89 L483.07 221.7 L483.78 223.47 L484.48 225.2 L485.19 226.89 L485.89 228.54 L486.6 230.16 L487.31 231.74 L488.01 233.3 L488.72 234.84 L489.42 236.35 L490.13 237.85 L490.83 239.34 L491.54 240.82 L492.24 242.29 L492.95 243.75 L493.65 245.19 L494.36 246.6 L495.07 247.97 L495.77 249.3 L496.48 250.57 L497.18 251.8 L497.89 253 L498.59 254.18 L499.3 255.36 L500 256.54 L500.71 257.73 L501.41 258.92 L502.12 260.1 L502.82 261.24 L503.53 262.36 L504.24 263.43 L504.94 264.45 L505.65 265.44 L506.35 266.4 L507.06 267.33 L507.76 268.23 L508.47 269.12 L509.17 269.97 L509.88 270.8 L510.58 271.59 L511.29 272.36 L511.99 273.08 L512.7 273.77 L513.41 274.43 L514.11 275.06 L514.82 275.66 L515.52 276.23 L516.23 276.79 L516.93 277.31 L517.64 277.81 L518.34 278.27 L519.05 278.69 L519.75 279.06 L520.46 279.4 L521.17 279.7 L521.87 279.97 L522.58 280.21 L523.28 280.43 L523.99 280.63 L524.69 280.81 L525.4 280.97 L526.1 281.11 L526.81 281.22 L527.51 281.3 L528.22 281.34 L528.92 281.36 L529.63 281.35 L530.34 281.3 L531.04 281.22 L531.75 281.1 L532.45 280.96 L533.16 280.78 L533.86 280.57 L534.57 280.33 L535.27 280.07 L535.98 279.78 L536.68 279.47 L537.39 279.12 L538.1 278.74 L538.8 278.33 L539.51 277.89 L540.21 277.41 L540.92 276.92 L541.62 276.4 L542.33 275.88 L543.03 275.34 L543.74 274.8 L544.44 274.24 L545.15 273.66 L545.85 273.05 L546.56 272.4 L547.27 271.7 L547.97 270.97 L548.68 270.22 L549.38 269.46 L550.09 268.7 L550.79 267.96 L551.5 267.23 L552.2 266.51 L552.91 265.79 L553.61 265.04 L554.32 264.26 L555.03 263.44 L555.73 262.59 L556.44 261.7 L557.14 260.77 L557.85 259.83 L558.55 258.86 L559.26 257.88 L559.96 256.88 L560.67 255.87 L561.37 254.84 L562.08 253.81 L562.78 252.76 L563.49 251.7 L564.2 250.64 L564.9 249.55 L565.61 248.46 L566.31 247.34 L567.02 246.21 L567.72 245.07 L568.43 243.92 L569.13 242.77 L569.84 241.62 L570.54 240.47 L571.25 239.33 L571.95 238.17 L572.66 237.01 L573.37 235.83 L574.07 234.62 L574.78 233.38 L575.48 232.13 L576.19 230.86 L576.89 229.6 L577.6 228.33 L578.3 227.08 L579.01 225.85 L579.71 224.63 L580.42 223.43 L581.13 222.24 L581.83 221.06 L582.54 219.89 L583.24 218.72 L583.95 217.56 L584.65 216.4 L585.36 215.23 L586.06 214.06 L586.77 212.87 L587.47 211.67 L588.18 210.46 L588.88 209.23 L589.59 207.98 L590.3 206.72 L591 205.45 L591.71 204.19 L592.41 202.93 L593.12 201.69 L593.82 200.48 L594.53 199.29 L595.23 198.13 L595.94 196.98 L596.64 195.83 L597.35 194.67 L598.06 193.49 L598.76 192.3 L599.47 191.09 L600.17 189.87 L600.88 188.64 L601.58 187.39 L602.29 186.13 L602.99 184.87 L603.7 183.61 L604.4 182.36 L605.11 181.11 L605.81 179.87 L606.52 178.65 L607.23 177.44 L607.93 176.24 L608.64 175.05 L609.34 173.87 L610.05 172.69 L610.75 171.52 L611.46 170.36 L612.16 169.19 L612.87 168.03 L613.57 166.85 L614.28 165.67 L614.98 164.47 L615.69 163.26 L616.4 162.02 L617.1 160.76 L617.81 159.47 L618.51 158.17 L619.22 156.88 L619.92 155.6 L620.63 154.35 L621.33 153.14 L622.04 151.99 L622.74 150.87 L623.45 149.8 L624.16 148.78 L624.86 147.79 L625.57 146.83 L626.27 145.92 L626.98 145.03 L627.68 144.18 L628.39 143.35 L629.09 142.55 L629.8 141.77 L630.5 141.01 L631.21 140.27 L631.91 139.54 L632.62 138.81 L633.33 138.09 L634.03 137.36 L634.74 136.63 L635.44 135.89 L636.15 135.14 L636.85 134.37 L637.56 133.58 L638.26 132.76 L638.97 131.91 L639.67 131.03 L640.38 130.12 L641.09 129.19 L641.79 128.25 L642.5 127.3 L643.2 126.35 L643.91 125.42 L644.61 124.5 L645.32 123.61 L646.02 122.76 L646.73 121.92 L647.43 121.12 L648.14 120.34 L648.84 119.58 L649.55 118.84 L650.26 118.12 L650.96 117.43 L651.67 116.74 L652.37 116.08 L653.08 115.43 L653.78 114.8 L654.49 114.18 L655.19 113.59 L655.9 113.01 L656.6 112.45 L657.31 111.91 L658.02 111.39 L658.72 110.89 L659.43 110.41 L660.13 109.96 L660.84 109.53 L661.54 109.11 L662.25 108.72 L662.95 108.34 L663.66 107.98 L664.36 107.63 L665.07 107.29 L665.77 106.97 L666.48 106.66 L667.19 106.35 L667.89 106.06 L668.6 105.77 L669.3 105.49 L670.01 105.22 L670.71 104.96 L671.42 104.71 L672.12 104.47 L672.83 104.24 L673.53 104.02 L674.24 103.81 L674.94 103.6 L675.65 103.41 L676.36 103.23 L677.06 103.06 L677.77 102.9 L678.47 102.75 L679.18 102.61 L679.88 102.49 L680.59 102.38 L681.29 102.28 L682 102.2 L682.7 102.13 L683.41 102.07 L684.12 102.03 L684.82 102 L685.53 101.99 L686.23 102 L686.94 102.01 L687.64 102.05 L688.35 102.09 L689.05 102.15 L689.76 102.22 L690.46 102.3 L691.17 102.39 L691.87 102.48 L692.58 102.59 L693.29 102.71 L693.99 102.83 L694.7 102.96 L695.4 103.1 L696.11 103.25 L696.81 103.4 L697.52 103.57 L698.22 103.75 L698.93 103.94 L699.63 104.14 L700.34 104.36 L701.05 104.6 L701.75 104.85 L702.46 105.12 L703.16 105.41 L703.87 105.71 L704.57 106.03 L705.28 106.36 L705.98 106.7 L706.69 107.06 L707.39 107.42 L708.1 107.8 L708.8 108.19 L709.51 108.58 L710.22 108.98 L710.92 109.39 L711.63 109.81 L712.33 110.23 L713.04 110.66 L713.74 111.09 L714.45 111.53 L715.15 111.97 L715.86 112.42 L716.56 112.87 L717.27 113.32 L717.97 113.77 L718.68 114.23 L719.39 114.69 L720.09 115.15 L720.8 115.62 L721.5 116.08 L722.21 116.55 L722.91 117.01 L723.62 117.48 L724.32 117.95 L725.03 118.42 L725.73 118.89 L726.44 119.37 L727.15 119.85 L727.85 120.35 L728.56 120.85 L729.26 121.37 L729.97 121.9 L730.67 122.44 L731.38 123 L732.08 123.58 L732.79 124.16 L733.49 124.76 L734.2 125.36 L734.9 125.96 L735.61 126.56 L736.32 127.16 L737.02 127.76 L737.73 128.34 L738.43 128.92 L739.14 129.48 L739.84 130.03 L740.55 130.57 L741.25 131.1 L741.96 131.63 L742.66 132.14 L743.37 132.64 L744.08 133.14 L744.78 133.64 L745.49 134.13 L746.19 134.61 L746.9 135.09 L747.6 135.57 L748.31 136.05 L749.01 136.53 L749.72 137.01 L750.42 137.49 L751.13 137.97 L751.83 138.46 L752.54 138.95 L753.25 139.44 L753.95 139.94 L754.66 140.44 L755.36 140.94 L756.07 141.44 L756.77 141.94 L757.48 142.45 L758.18 142.95 L758.89 143.46 L759.59 143.96 L760.3 144.47 L761.01 144.97 L761.71 145.47 L762.42 145.97 L763.12 146.47 L763.83 146.97 L764.53 147.46 L765.24 147.96 L765.94 148.45 L766.65 148.93 L767.35 149.41 L768.06 149.89 L768.76 150.37 L769.47 150.85 L770.18 151.32 L770.88 151.79 L771.59 152.25 L772.29 152.72 L773 153.18 L773.7 153.64 L774.41 154.1 L775.11 154.55 L775.82 155 L776.52 155.45 L777.23 155.9 L777.93 156.34 L778.64 156.79 L779.35 157.23 L780.05 157.67 L780.76 158.11 L781.46 158.55 L782.17 158.98 L782.87 159.42 L783.58 159.86 L784.28 160.29 L784.99 160.73 L785.69 161.17 L786.4 161.61 L787.11 162.05 L787.81 162.49 L788.52 162.93 L789.22 163.37 L789.93 163.82 L790.63 164.27 L791.34 164.72 L792.04 165.17 L792.75 165.62 L793.45 166.08 L794.16 166.53 L794.86 166.98 L795.57 167.43 L796.28 167.88 L796.98 168.33 L797.69 168.78 L798.39 169.22 L799.1 169.66 L799.8 170.1 L800.51 170.53 L801.21 170.96 L801.92 171.38 L802.62 171.8 L803.33 172.21 L804.04 172.61 L804.74 173.01 L805.45 173.41 L806.15 173.8 L806.86 174.19 L807.56 174.57 L808.27 174.95 L808.97 175.33 L809.68 175.71 L810.38 176.08 L811.09 176.46 L811.79 176.83 L812.5 177.2" fill="none" stroke="#000" stroke-width="2.4" stroke-linejoin="round" />
<path d="M458 160.65h5v5h-5zM461.91 170.97h5v5h-5zM465.82 181.66h5v5h-5zM469.73 191.48h5v5h-5zM473.64 201.3h5v5h-5zM477.56 211.37h5v5h-5zM481.47 221.44h5v5h-5zM485.38 230.51h5v5h-5zM489.29 238.84h5v5h-5zM493.2 246.67h5v5h-5zM497.11 253.38h5v5h-5zM501.02 259.85h5v5h-5zM504.93 265.31h5v5h-5zM508.84 269.91h5v5h-5zM512.76 273.52h5v5h-5zM516.67 276.25h5v5h-5zM520.58 277.87h5v5h-5zM524.49 278.74h5v5h-5zM528.4 278.74h5v5h-5zM532.31 277.74h5v5h-5zM536.22 275.88h5v5h-5zM540.13 273.15h5v5h-5zM544.04 269.91h5v5h-5zM547.96 265.81h5v5h-5zM551.87 261.71h5v5h-5zM555.78 256.74h5v5h-5zM559.69 251.14h5v5h-5zM563.6 245.18h5v5h-5zM567.51 238.84h5v5h-5zM571.42 232.38h5v5h-5zM575.33 225.41h5v5h-5zM579.24 218.7h5v5h-5zM583.16 212.24h5v5h-5zM587.07 205.53h5v5h-5zM590.98 198.57h5v5h-5zM594.89 192.1h5v5h-5zM598.8 185.39h5v5h-5zM602.71 178.43h5v5h-5zM606.62 171.74h5v5h-5zM610.53 165.25h5v5h-5zM614.44 158.54h5v5h-5zM618.36 151.46h5v5h-5zM622.27 145.42h5v5h-5zM626.18 140.52h5v5h-5zM630.09 136.34h5v5h-5zM634 132.26h5v5h-5zM637.91 127.58h5v5h-5zM641.82 122.37h5v5h-5zM645.73 117.73h5v5h-5zM649.64 113.79h5v5h-5zM653.56 110.38h5v5h-5zM657.47 107.57h5v5h-5zM661.38 105.37h5v5h-5zM665.29 103.6h5v5h-5zM669.2 102.12h5v5h-5zM673.11 100.92h5v5h-5zM677.02 100.05h5v5h-5zM680.93 99.57h5v5h-5zM684.84 99.53h5v5h-5zM688.76 99.9h5v5h-5zM692.67 100.55h5v5h-5zM696.58 101.48h5v5h-5zM700.49 102.84h5v5h-5zM704.4 104.67h5v5h-5zM708.31 106.83h5v5h-5zM712.22 109.2h5v5h-5zM716.13 111.7h5v5h-5zM720.04 114.27h5v5h-5zM723.96 116.88h5v5h-5zM727.87 119.7h5v5h-5zM731.78 122.92h5v5h-5zM735.69 126.22h5v5h-5zM739.6 129.23h5v5h-5zM743.51 131.99h5v5h-5zM747.42 134.65h5v5h-5zM751.33 137.36h5v5h-5zM755.24 140.14h5v5h-5zM759.16 142.93h5v5h-5zM763.07 145.68h5v5h-5zM766.98 148.35h5v5h-5zM770.89 150.94h5v5h-5zM774.8 153.44h5v5h-5zM778.71 155.89h5v5h-5zM782.62 158.31h5v5h-5zM786.53 160.76h5v5h-5zM790.44 163.25h5v5h-5zM794.36 165.75h5v5h-5zM798.27 168.19h5v5h-5zM802.18 170.48h5v5h-5zM806.09 172.63h5v5h-5zM810 174.7h5v5h-5z" fill="#000"/>
<path d="M460.5 251.9 L461.21 251.51 L461.91 251.12 L462.62 250.7 L463.32 250.27 L464.03 249.81 L464.73 249.31 L465.44 248.78 L466.14 248.22 L466.85 247.64 L467.55 247.06 L468.26 246.49 L468.96 245.92 L469.67 245.35 L470.38 244.77 L471.08 244.17 L471.79 243.52 L472.49 242.81 L473.2 242.05 L473.9 241.23 L474.61 240.39 L475.31 239.52 L476.02 238.64 L476.72 237.76 L477.43 236.89 L478.14 236.02 L478.84 235.14 L479.55 234.27 L480.25 233.39 L480.96 232.5 L481.66 231.6 L482.37 230.68 L483.07 229.75 L483.78 228.79 L484.48 227.82 L485.19 226.82 L485.89 225.81 L486.6 224.79 L487.31 223.77 L488.01 222.75 L488.72 221.74 L489.42 220.73 L490.13 219.74 L490.83 218.76 L491.54 217.81 L492.24 216.87 L492.95 215.96 L493.65 215.08 L494.36 214.21 L495.07 213.37 L495.77 212.54 L496.48 211.74 L497.18 210.96 L497.89 210.19 L498.59 209.45 L499.3 208.72 L500 208 L500.71 207.31 L501.41 206.62 L502.12 205.95 L502.82 205.3 L503.53 204.66 L504.24 204.04 L504.94 203.44 L505.65 202.87 L506.35 202.32 L507.06 201.82 L507.76 201.35 L508.47 200.93 L509.17 200.54 L509.88 200.17 L510.58 199.82 L511.29 199.48 L511.99 199.13 L512.7 198.79 L513.41 198.46 L514.11 198.15 L514.82 197.87 L515.52 197.62 L516.23 197.41 L516.93 197.24 L517.64 197.09 L518.34 196.97 L519.05 196.86 L519.75 196.76 L520.46 196.67 L521.17 196.6 L521.87 196.57 L522.58 196.57 L523.28 196.61 L523.99 196.7 L524.69 196.82 L525.4 196.97 L526.1 197.13 L526.81 197.29 L527.51 197.46 L528.22 197.61 L528.92 197.77 L529.63 197.92 L530.34 198.09 L531.04 198.26 L531.75 198.45 L532.45 198.65 L533.16 198.88 L533.86 199.13 L534.57 199.41 L535.27 199.73 L535.98 200.09 L536.68 200.47 L537.39 200.89 L538.1 201.33 L538.8 201.8 L539.51 202.28 L540.21 202.78 L540.92 203.29 L541.62 203.8 L542.33 204.32 L543.03 204.84 L543.74 205.36 L544.44 205.87 L545.15 206.39 L545.85 206.91 L546.56 207.43 L547.27 207.95 L547.97 208.48 L548.68 209.01 L549.38 209.54 L550.09 210.09 L550.79 210.63 L551.5 211.18 L552.2 211.73 L552.91 212.27 L553.61 212.8 L554.32 213.33 L555.03 213.84 L555.73 214.33 L556.44 214.81 L557.14 215.26 L557.85 215.69 L558.55 216.09 L559.26 216.47 L559.96 216.84 L560.67 217.18 L561.37 217.51 L562.08 217.83 L562.78 218.13 L563.49 218.42 L564.2 218.71 L564.9 218.98 L565.61 219.26 L566.31 219.52 L567.02 219.77 L567.72 220.02 L568.43 220.25 L569.13 220.46 L569.84 220.66 L570.54 220.85 L571.25 221.01 L571.95 221.15 L572.66 221.27 L573.37 221.38 L574.07 221.46 L574.78 221.52 L575.48 221.56 L576.19 221.58 L576.89 221.58 L577.6 221.56 L578.3 221.52 L579.01 221.46 L579.71 221.37 L580.42 221.25 L581.13 221.11 L581.83 220.93 L582.54 220.72 L583.24 220.48 L583.95 220.22 L584.65 219.94 L585.36 219.66 L586.06 219.37 L586.77 219.08 L587.47 218.8 L588.18 218.51 L588.88 218.21 L589.59 217.91 L590.3 217.58 L591 217.23 L591.71 216.85 L592.41 216.43 L593.12 215.97 L593.82 215.48 L594.53 214.94 L595.23 214.37 L595.94 213.75 L596.64 213.09 L597.35 212.38 L598.06 211.62 L598.76 210.8 L599.47 209.91 L600.17 208.96 L600.88 207.93 L601.58 206.85 L602.29 205.75 L602.99 204.64 L603.7 203.56 L604.4 202.53 L605.11 201.54 L605.81 200.58 L606.52 199.62 L607.23 198.63 L607.93 197.6 L608.64 196.49 L609.34 195.31 L610.05 194.06 L610.75 192.78 L611.46 191.47 L612.16 190.17 L612.87 188.87 L613.57 187.59 L614.28 186.33 L614.98 185.09 L615.69 183.86 L616.4 182.64 L617.1 181.44 L617.81 180.24 L618.51 179.03 L619.22 177.81 L619.92 176.56 L620.63 175.28 L621.33 173.97 L622.04 172.62 L622.74 171.25 L623.45 169.86 L624.16 168.44 L624.86 167.02 L625.57 165.59 L626.27 164.16 L626.98 162.72 L627.68 161.28 L628.39 159.84 L629.09 158.4 L629.8 156.95 L630.5 155.5 L631.21 154.04 L631.91 152.56 L632.62 151.07 L633.33 149.56 L634.03 148.04 L634.74 146.53 L635.44 145.04 L636.15 143.56 L636.85 142.11 L637.56 140.69 L638.26 139.28 L638.97 137.88 L639.67 136.49 L640.38 135.1 L641.09 133.69 L641.79 132.29 L642.5 130.87 L643.2 129.45 L643.91 128.03 L644.61 126.59 L645.32 125.16 L646.02 123.72 L646.73 122.28 L647.43 120.85 L648.14 119.42 L648.84 118 L649.55 116.59 L650.26 115.2 L650.96 113.83 L651.67 112.48 L652.37 111.16 L653.08 109.85 L653.78 108.56 L654.49 107.27 L655.19 105.98 L655.9 104.67 L656.6 103.35 L657.31 102.03 L658.02 100.76 L658.72 99.53 L659.43 98.38 L660.13 97.32 L660.84 96.32 L661.54 95.35 L662.25 94.4 L662.95 93.43 L663.66 92.43 L664.36 91.38 L665.07 90.3 L665.77 89.22 L666.48 88.16 L667.19 87.13 L667.89 86.17 L668.6 85.26 L669.3 84.42 L670.01 83.62 L670.71 82.87 L671.42 82.14 L672.12 81.45 L672.83 80.77 L673.53 80.1 L674.24 79.44 L674.94 78.78 L675.65 78.1 L676.36 77.41 L677.06 76.7 L677.77 76 L678.47 75.31 L679.18 74.66 L679.88 74.06 L680.59 73.51 L681.29 73.03 L682 72.6 L682.7 72.22 L683.41 71.89 L684.12 71.59 L684.82 71.32 L685.53 71.07 L686.23 70.86 L686.94 70.66 L687.64 70.48 L688.35 70.32 L689.05 70.18 L689.76 70.04 L690.46 69.91 L691.17 69.8 L691.87 69.7 L692.58 69.61 L693.29 69.53 L693.99 69.48 L694.7 69.44 L695.4 69.43 L696.11 69.44 L696.81 69.48 L697.52 69.54 L698.22 69.63 L698.93 69.75 L699.63 69.9 L700.34 70.08 L701.05 70.3 L701.75 70.55 L702.46 70.83 L703.16 71.15 L703.87 71.49 L704.57 71.85 L705.28 72.23 L705.98 72.63 L706.69 73.04 L707.39 73.45 L708.1 73.87 L708.8 74.3 L709.51 74.73 L710.22 75.15 L710.92 75.58 L711.63 76.01 L712.33 76.43 L713.04 76.84 L713.74 77.25 L714.45 77.65 L715.15 78.05 L715.86 78.46 L716.56 78.89 L717.27 79.33 L717.97 79.8 L718.68 80.3 L719.39 80.84 L720.09 81.43 L720.8 82.07 L721.5 82.75 L722.21 83.48 L722.91 84.26 L723.62 85.1 L724.32 85.98 L725.03 86.89 L725.73 87.81 L726.44 88.7 L727.15 89.55 L727.85 90.34 L728.56 91.09 L729.26 91.81 L729.97 92.52 L730.67 93.24 L731.38 93.97 L732.08 94.71 L732.79 95.48 L733.49 96.26 L734.2 97.06 L734.9 97.88 L735.61 98.72 L736.32 99.58 L737.02 100.44 L737.73 101.31 L738.43 102.17 L739.14 103.03 L739.84 103.89 L740.55 104.74 L741.25 105.59 L741.96 106.43 L742.66 107.27 L743.37 108.1 L744.08 108.94 L744.78 109.79 L745.49 110.66 L746.19 111.55 L746.9 112.47 L747.6 113.41 L748.31 114.38 L749.01 115.35 L749.72 116.34 L750.42 117.33 L751.13 118.32 L751.83 119.3 L752.54 120.28 L753.25 121.25 L753.95 122.2 L754.66 123.12 L755.36 124.04 L756.07 124.93 L756.77 125.82 L757.48 126.69 L758.18 127.54 L758.89 128.39 L759.59 129.22 L760.3 130.05 L761.01 130.86 L761.71 131.68 L762.42 132.48 L763.12 133.28 L763.83 134.08 L764.53 134.88 L765.24 135.67 L765.94 136.46 L766.65 137.26 L767.35 138.06 L768.06 138.85 L768.76 139.64 L769.47 140.43 L770.18 141.22 L770.88 142 L771.59 142.77 L772.29 143.54 L773 144.31 L773.7 145.06 L774.41 145.81 L775.11 146.54 L775.82 147.27 L776.52 147.98 L777.23 148.68 L777.93 149.37 L778.64 150.04 L779.35 150.71 L780.05 151.36 L780.76 152.01 L781.46 152.64 L782.17 153.27 L782.87 153.9 L783.58 154.51 L784.28 155.12 L784.99 155.72 L785.69 156.33 L786.4 156.92 L787.11 157.52 L787.81 158.11 L788.52 158.71 L789.22 159.3 L789.93 159.89 L790.63 160.49 L791.34 161.08 L792.04 161.68 L792.75 162.27 L793.45 162.87 L794.16 163.46 L794.86 164.05 L795.57 164.64 L796.28 165.23 L796.98 165.81 L797.69 166.39 L798.39 166.97 L799.1 167.54 L799.8 168.1 L800.51 168.66 L801.21 169.21 L801.92 169.75 L802.62 170.29 L803.33 170.82 L804.04 171.34 L804.74 171.85 L805.45 172.36 L806.15 172.86 L806.86 173.36 L807.56 173.85 L808.27 174.33 L808.97 174.82 L809.68 175.3 L810.38 175.77 L811.09 176.25 L811.79 176.73 L812.5 177.2" fill="none" stroke="#555" stroke-width="0.8" stroke-linejoin="round" />
<g fill="#000"><circle cx="460.5" cy="251.9" r="3.0"/><circle cx="464.41" cy="249.54" r="3.0"/><circle cx="468.32" cy="246.44" r="3.0"/><circle cx="472.23" cy="243.08" r="3.0"/><circle cx="476.14" cy="238.48" r="3.0"/><circle cx="480.06" cy="233.63" r="3.0"/><circle cx="483.97" cy="228.54" r="3.0"/><circle cx="487.88" cy="222.94" r="3.0"/><circle cx="491.79" cy="217.47" r="3.0"/><circle cx="495.7" cy="212.63" r="3.0"/><circle cx="499.61" cy="208.4" r="3.0"/><circle cx="503.52" cy="204.67" r="3.0"/><circle cx="507.43" cy="201.56" r="3.0"/><circle cx="511.34" cy="199.45" r="3.0"/><circle cx="515.26" cy="197.71" r="3.0"/><circle cx="519.17" cy="196.84" r="3.0"/><circle cx="523.08" cy="196.59" r="3.0"/><circle cx="526.99" cy="197.34" r="3.0"/><circle cx="530.9" cy="198.22" r="3.0"/><circle cx="534.81" cy="199.52" r="3.0"/><circle cx="538.72" cy="201.74" r="3.0"/><circle cx="542.63" cy="204.55" r="3.0"/><circle cx="546.54" cy="207.42" r="3.0"/><circle cx="550.46" cy="210.37" r="3.0"/><circle cx="554.37" cy="213.36" r="3.0"/><circle cx="558.28" cy="215.94" r="3.0"/><circle cx="562.19" cy="217.87" r="3.0"/><circle cx="566.1" cy="219.44" r="3.0"/><circle cx="570.01" cy="220.71" r="3.0"/><circle cx="573.92" cy="221.44" r="3.0"/><circle cx="577.83" cy="221.55" r="3.0"/><circle cx="581.74" cy="220.95" r="3.0"/><circle cx="585.66" cy="219.53" r="3.0"/><circle cx="589.57" cy="217.92" r="3.0"/><circle cx="593.48" cy="215.72" r="3.0"/><circle cx="597.39" cy="212.34" r="3.0"/><circle cx="601.3" cy="207.29" r="3.0"/><circle cx="605.21" cy="201.4" r="3.0"/><circle cx="609.12" cy="195.68" r="3.0"/><circle cx="613.03" cy="188.57" r="3.0"/><circle cx="616.94" cy="181.7" r="3.0"/><circle cx="620.86" cy="174.86" r="3.0"/><circle cx="624.77" cy="167.21" r="3.0"/><circle cx="628.68" cy="159.25" r="3.0"/><circle cx="632.59" cy="151.14" r="3.0"/><circle cx="636.5" cy="142.83" r="3.0"/><circle cx="640.41" cy="135.03" r="3.0"/><circle cx="644.32" cy="127.18" r="3.0"/><circle cx="648.23" cy="119.23" r="3.0"/><circle cx="652.14" cy="111.58" r="3.0"/><circle cx="656.06" cy="104.38" r="3.0"/><circle cx="659.97" cy="97.56" r="3.0"/><circle cx="663.88" cy="92.11" r="3.0"/><circle cx="667.79" cy="86.3" r="3.0"/><circle cx="671.7" cy="81.86" r="3.0"/><circle cx="675.61" cy="78.14" r="3.0"/><circle cx="679.52" cy="74.36" r="3.0"/><circle cx="683.43" cy="71.88" r="3.0"/><circle cx="687.34" cy="70.56" r="3.0"/><circle cx="691.26" cy="69.79" r="3.0"/><circle cx="695.17" cy="69.43" r="3.0"/><circle cx="699.08" cy="69.78" r="3.0"/><circle cx="702.99" cy="71.07" r="3.0"/><circle cx="706.9" cy="73.16" r="3.0"/><circle cx="710.81" cy="75.51" r="3.0"/><circle cx="714.72" cy="77.81" r="3.0"/><circle cx="718.63" cy="80.27" r="3.0"/><circle cx="722.54" cy="83.85" r="3.0"/><circle cx="726.46" cy="88.72" r="3.0"/><circle cx="730.37" cy="92.92" r="3.0"/><circle cx="734.28" cy="97.15" r="3.0"/><circle cx="738.19" cy="101.87" r="3.0"/><circle cx="742.1" cy="106.6" r="3.0"/><circle cx="746.01" cy="111.32" r="3.0"/><circle cx="749.92" cy="116.62" r="3.0"/><circle cx="753.83" cy="122.04" r="3.0"/><circle cx="757.74" cy="127.01" r="3.0"/><circle cx="761.66" cy="131.61" r="3.0"/><circle cx="765.57" cy="136.04" r="3.0"/><circle cx="769.48" cy="140.44" r="3.0"/><circle cx="773.39" cy="144.73" r="3.0"/><circle cx="777.3" cy="148.75" r="3.0"/><circle cx="781.21" cy="152.42" r="3.0"/><circle cx="785.12" cy="155.84" r="3.0"/><circle cx="789.03" cy="159.14" r="3.0"/><circle cx="792.94" cy="162.44" r="3.0"/><circle cx="796.86" cy="165.71" r="3.0"/><circle cx="800.77" cy="168.86" r="3.0"/><circle cx="804.68" cy="171.81" r="3.0"/><circle cx="808.59" cy="174.55" r="3.0"/><circle cx="812.5" cy="177.2" r="3.0"/></g>
<path d="M460.5 203.3 L461.21 203.45 L461.91 203.59 L462.62 203.73 L463.32 203.84 L464.03 203.94 L464.73 204.01 L465.44 204.04 L466.14 204.05 L466.85 204.01 L467.55 203.93 L468.26 203.82 L468.96 203.68 L469.67 203.51 L470.38 203.31 L471.08 203.09 L471.79 202.85 L472.49 202.58 L473.2 202.3 L473.9 202.01 L474.61 201.7 L475.31 201.38 L476.02 201.04 L476.72 200.7 L477.43 200.34 L478.14 199.98 L478.84 199.61 L479.55 199.23 L480.25 198.85 L480.96 198.46 L481.66 198.07 L482.37 197.68 L483.07 197.3 L483.78 196.92 L484.48 196.54 L485.19 196.17 L485.89 195.81 L486.6 195.45 L487.31 195.12 L488.01 194.79 L488.72 194.48 L489.42 194.19 L490.13 193.91 L490.83 193.66 L491.54 193.42 L492.24 193.2 L492.95 193.01 L493.65 192.84 L494.36 192.69 L495.07 192.57 L495.77 192.48 L496.48 192.41 L497.18 192.37 L497.89 192.37 L498.59 192.39 L499.3 192.44 L500 192.52 L500.71 192.62 L501.41 192.75 L502.12 192.91 L502.82 193.09 L503.53 193.3 L504.24 193.53 L504.94 193.78 L505.65 194.05 L506.35 194.34 L507.06 194.65 L507.76 194.99 L508.47 195.35 L509.17 195.75 L509.88 196.17 L510.58 196.62 L511.29 197.11 L511.99 197.63 L512.7 198.19 L513.41 198.79 L514.11 199.44 L514.82 200.12 L515.52 200.85 L516.23 201.62 L516.93 202.44 L517.64 203.29 L518.34 204.18 L519.05 205.1 L519.75 206.05 L520.46 207.02 L521.17 208.01 L521.87 209.02 L522.58 210.04 L523.28 211.07 L523.99 212.11 L524.69 213.15 L525.4 214.2 L526.1 215.24 L526.81 216.28 L527.51 217.33 L528.22 218.37 L528.92 219.41 L529.63 220.44 L530.34 221.47 L531.04 222.5 L531.75 223.52 L532.45 224.54 L533.16 225.55 L533.86 226.55 L534.57 227.55 L535.27 228.54 L535.98 229.52 L536.68 230.49 L537.39 231.46 L538.1 232.42 L538.8 233.38 L539.51 234.33 L540.21 235.28 L540.92 236.21 L541.62 237.15 L542.33 238.08 L543.03 239 L543.74 239.92 L544.44 240.83 L545.15 241.73 L545.85 242.62 L546.56 243.49 L547.27 244.34 L547.97 245.17 L548.68 245.97 L549.38 246.76 L550.09 247.51 L550.79 248.23 L551.5 248.92 L552.2 249.58 L552.91 250.19 L553.61 250.78 L554.32 251.33 L555.03 251.84 L555.73 252.32 L556.44 252.77 L557.14 253.18 L557.85 253.56 L558.55 253.91 L559.26 254.23 L559.96 254.51 L560.67 254.76 L561.37 254.98 L562.08 255.16 L562.78 255.31 L563.49 255.42 L564.2 255.49 L564.9 255.52 L565.61 255.51 L566.31 255.46 L567.02 255.37 L567.72 255.24 L568.43 255.08 L569.13 254.87 L569.84 254.64 L570.54 254.36 L571.25 254.05 L571.95 253.7 L572.66 253.32 L573.37 252.91 L574.07 252.45 L574.78 251.97 L575.48 251.45 L576.19 250.89 L576.89 250.29 L577.6 249.67 L578.3 249 L579.01 248.3 L579.71 247.56 L580.42 246.78 L581.13 245.96 L581.83 245.09 L582.54 244.18 L583.24 243.21 L583.95 242.19 L584.65 241.11 L585.36 239.97 L586.06 238.77 L586.77 237.5 L587.47 236.17 L588.18 234.78 L588.88 233.33 L589.59 231.83 L590.3 230.29 L591 228.7 L591.71 227.08 L592.41 225.43 L593.12 223.76 L593.82 222.06 L594.53 220.35 L595.23 218.62 L595.94 216.89 L596.64 215.15 L597.35 213.4 L598.06 211.66 L598.76 209.91 L599.47 208.17 L600.17 206.44 L600.88 204.72 L601.58 203.01 L602.29 201.32 L602.99 199.64 L603.7 197.99 L604.4 196.35 L605.11 194.73 L605.81 193.11 L606.52 191.5 L607.23 189.9 L607.93 188.29 L608.64 186.67 L609.34 185.05 L610.05 183.41 L610.75 181.75 L611.46 180.07 L612.16 178.37 L612.87 176.64 L613.57 174.88 L614.28 173.1 L614.98 171.29 L615.69 169.47 L616.4 167.64 L617.1 165.81 L617.81 163.97 L618.51 162.14 L619.22 160.32 L619.92 158.51 L620.63 156.72 L621.33 154.96 L622.04 153.22 L622.74 151.51 L623.45 149.83 L624.16 148.17 L624.86 146.53 L625.57 144.91 L626.27 143.31 L626.98 141.72 L627.68 140.14 L628.39 138.56 L629.09 137 L629.8 135.43 L630.5 133.86 L631.21 132.3 L631.91 130.73 L632.62 129.16 L633.33 127.6 L634.03 126.03 L634.74 124.46 L635.44 122.89 L636.15 121.31 L636.85 119.74 L637.56 118.16 L638.26 116.58 L638.97 115 L639.67 113.43 L640.38 111.87 L641.09 110.31 L641.79 108.78 L642.5 107.25 L643.2 105.75 L643.91 104.28 L644.61 102.83 L645.32 101.4 L646.02 100.01 L646.73 98.65 L647.43 97.3 L648.14 95.98 L648.84 94.67 L649.55 93.38 L650.26 92.1 L650.96 90.82 L651.67 89.56 L652.37 88.29 L653.08 87.03 L653.78 85.78 L654.49 84.53 L655.19 83.3 L655.9 82.08 L656.6 80.89 L657.31 79.72 L658.02 78.58 L658.72 77.48 L659.43 76.4 L660.13 75.37 L660.84 74.37 L661.54 73.41 L662.25 72.49 L662.95 71.6 L663.66 70.75 L664.36 69.94 L665.07 69.16 L665.77 68.41 L666.48 67.7 L667.19 67.02 L667.89 66.38 L668.6 65.76 L669.3 65.18 L670.01 64.64 L670.71 64.12 L671.42 63.63 L672.12 63.18 L672.83 62.76 L673.53 62.36 L674.24 62 L674.94 61.67 L675.65 61.37 L676.36 61.09 L677.06 60.84 L677.77 60.62 L678.47 60.43 L679.18 60.26 L679.88 60.11 L680.59 59.99 L681.29 59.9 L682 59.82 L682.7 59.77 L683.41 59.74 L684.12 59.74 L684.82 59.75 L685.53 59.78 L686.23 59.83 L686.94 59.91 L687.64 60 L688.35 60.12 L689.05 60.26 L689.76 60.42 L690.46 60.6 L691.17 60.81 L691.87 61.03 L692.58 61.28 L693.29 61.56 L693.99 61.85 L694.7 62.17 L695.4 62.52 L696.11 62.89 L696.81 63.28 L697.52 63.69 L698.22 64.13 L698.93 64.59 L699.63 65.07 L700.34 65.58 L701.05 66.11 L701.75 66.67 L702.46 67.24 L703.16 67.83 L703.87 68.45 L704.57 69.08 L705.28 69.73 L705.98 70.4 L706.69 71.09 L707.39 71.79 L708.1 72.51 L708.8 73.24 L709.51 73.99 L710.22 74.75 L710.92 75.52 L711.63 76.31 L712.33 77.12 L713.04 77.94 L713.74 78.77 L714.45 79.61 L715.15 80.47 L715.86 81.35 L716.56 82.24 L717.27 83.16 L717.97 84.09 L718.68 85.05 L719.39 86.04 L720.09 87.05 L720.8 88.09 L721.5 89.16 L722.21 90.27 L722.91 91.41 L723.62 92.56 L724.32 93.74 L725.03 94.92 L725.73 96.11 L726.44 97.29 L727.15 98.46 L727.85 99.61 L728.56 100.74 L729.26 101.84 L729.97 102.9 L730.67 103.94 L731.38 104.95 L732.08 105.94 L732.79 106.9 L733.49 107.85 L734.2 108.78 L734.9 109.7 L735.61 110.61 L736.32 111.51 L737.02 112.41 L737.73 113.3 L738.43 114.2 L739.14 115.1 L739.84 116.01 L740.55 116.93 L741.25 117.85 L741.96 118.76 L742.66 119.67 L743.37 120.56 L744.08 121.44 L744.78 122.3 L745.49 123.15 L746.19 123.99 L746.9 124.8 L747.6 125.61 L748.31 126.4 L749.01 127.17 L749.72 127.94 L750.42 128.68 L751.13 129.42 L751.83 130.14 L752.54 130.85 L753.25 131.55 L753.95 132.24 L754.66 132.91 L755.36 133.58 L756.07 134.23 L756.77 134.87 L757.48 135.51 L758.18 136.13 L758.89 136.75 L759.59 137.37 L760.3 137.97 L761.01 138.57 L761.71 139.17 L762.42 139.76 L763.12 140.35 L763.83 140.93 L764.53 141.52 L765.24 142.1 L765.94 142.68 L766.65 143.25 L767.35 143.83 L768.06 144.4 L768.76 144.97 L769.47 145.54 L770.18 146.1 L770.88 146.67 L771.59 147.23 L772.29 147.78 L773 148.34 L773.7 148.89 L774.41 149.43 L775.11 149.98 L775.82 150.52 L776.52 151.05 L777.23 151.59 L777.93 152.12 L778.64 152.65 L779.35 153.18 L780.05 153.71 L780.76 154.24 L781.46 154.77 L782.17 155.3 L782.87 155.83 L783.58 156.37 L784.28 156.9 L784.99 157.44 L785.69 157.99 L786.4 158.53 L787.11 159.08 L787.81 159.63 L788.52 160.19 L789.22 160.74 L789.93 161.3 L790.63 161.85 L791.34 162.41 L792.04 162.96 L792.75 163.51 L793.45 164.06 L794.16 164.6 L794.86 165.14 L795.57 165.68 L796.28 166.21 L796.98 166.73 L797.69 167.25 L798.39 167.76 L799.1 168.27 L799.8 168.77 L800.51 169.26 L801.21 169.75 L801.92 170.24 L802.62 170.72 L803.33 171.2 L804.04 171.68 L804.74 172.15 L805.45 172.62 L806.15 173.08 L806.86 173.55 L807.56 174.01 L808.27 174.47 L808.97 174.93 L809.68 175.38 L810.38 175.84 L811.09 176.29 L811.79 176.75 L812.5 177.2" fill="none" stroke="#000" stroke-width="1.9" stroke-linejoin="round" />
</g>
<text transform="translate(411.4 14.6) scale(1.12 1.03)" font-family="'Liberation Sans', Arial, Helvetica, sans-serif" font-size="18" font-weight="bold" fill="#111" stroke="#111" stroke-width="0.5">b</text>
<path d="M694.6 209.6H724.8" stroke="#000" stroke-width="2.2"/>
<path d="M707.3 207.2h4.8v4.8h-4.8z" fill="#000"/>
<path d="M694.6 226.0H724.8" stroke="#888" stroke-width="1"/>
<g fill="#fff" stroke="#333" stroke-width="0.8"><circle cx="709.7" cy="226" r="2.9"/></g>
<path d="M694.6 242.2H724.8" stroke="#888" stroke-width="1"/>
<g fill="#000"><circle cx="709.7" cy="242.2" r="2.8"/></g>
<path d="M694.6 258.4H724.8" stroke="#000" stroke-width="2"/>
<path d="M694.6 274.8H724.8" stroke="#888" stroke-width="1"/>
<path d="M709.7 271.1v7.4M706.19 272.14l7.03 5.33M706.19 277.46l7.03 -5.33" fill="none" stroke="#1a1a1a" stroke-width="0.85"/>
<g font-family="'Liberation Sans', Arial, Helvetica, sans-serif" font-size="12.7" fill="#111">
<text x="728.8" y="214.1">0 hr</text>
<text x="728.8" y="230.5">1 hr</text>
<text x="728.8" y="246.7">2 hr</text>
<text x="728.8" y="262.9">3 hr</text>
<text x="728.8" y="279.3">24 hr</text>
</g>
<rect x="40.5" y="375.5" width="352" height="286" fill="none" stroke="#111" stroke-width="1"/>
<path d="M40.5 661.5v5.6M90.5 661.5v5.6M141.5 661.5v5.6M191.5 661.5v5.6M241.5 661.5v5.6M291.5 661.5v5.6M342.5 661.5v5.6M392.5 661.5v5.6M65.5 661.5v3.1M115.5 661.5v3.1M166.5 661.5v3.1M216.5 661.5v3.1M266.5 661.5v3.1M317.5 661.5v3.1M367.5 661.5v3.1M40.5 661.5h-5.8M40.5 609.5h-5.8M40.5 557.5h-5.8M40.5 505.5h-5.8M40.5 453.5h-5.8M40.5 401.5h-5.8M40.5 635.5h-3.2M40.5 583.5h-3.2M40.5 531.5h-3.2M40.5 479.5h-3.2M40.5 427.5h-3.2M40.5 375.5h-3.2" fill="none" stroke="#111" stroke-width="1"/>
<g font-family="'Liberation Sans', Arial, Helvetica, sans-serif" font-size="10.3" font-weight="normal" fill="#111">
<text x="40.5" y="678.7" text-anchor="middle">230</text>
<text x="90.79" y="678.7" text-anchor="middle">240</text>
<text x="141.07" y="678.7" text-anchor="middle">250</text>
<text x="191.36" y="678.7" text-anchor="middle">260</text>
<text x="241.64" y="678.7" text-anchor="middle">270</text>
<text x="291.93" y="678.7" text-anchor="middle">280</text>
<text x="342.21" y="678.7" text-anchor="middle">290</text>
<text x="392.5" y="678.7" text-anchor="middle">300</text>
<text x="31.5" y="664.11" text-anchor="end">-2</text>
<text x="31.5" y="612.11" text-anchor="end">-1</text>
<text x="31.5" y="560.11" text-anchor="end">0</text>
<text x="31.5" y="508.11" text-anchor="end">1</text>
<text x="31.5" y="456.11" text-anchor="end">2</text>
<text x="31.5" y="404.11" text-anchor="end">3</text>
</g>
<text x="216.5" y="696.5" text-anchor="middle" font-family="'Liberation Sans', Arial, Helvetica, sans-serif" font-size="13" font-weight="normal" fill="#111">Wavelength (nm)</text>
<text transform="translate(10.9 526.7) rotate(-90)" text-anchor="middle" font-family="'Liberation Sans', Arial, Helvetica, sans-serif" font-size="13" font-weight="normal" fill="#111">CD</text>
<g clip-path="url(#cc)">
<path d="M40.5 556.9H392.5" stroke="#000" stroke-width="1.6"/>
<path d="M40.5 563.92 L41.21 564.67 L41.91 565.42 L42.62 566.17 L43.32 566.92 L44.03 567.69 L44.73 568.45 L45.44 569.22 L46.14 570 L46.85 570.79 L47.55 571.57 L48.26 572.36 L48.96 573.13 L49.67 573.9 L50.38 574.65 L51.08 575.38 L51.79 576.09 L52.49 576.79 L53.2 577.48 L53.9 578.15 L54.61 578.81 L55.31 579.47 L56.02 580.12 L56.72 580.77 L57.43 581.42 L58.14 582.07 L58.84 582.73 L59.55 583.39 L60.25 584.06 L60.96 584.74 L61.66 585.43 L62.37 586.12 L63.07 586.83 L63.78 587.54 L64.48 588.24 L65.19 588.95 L65.89 589.64 L66.6 590.34 L67.31 591.03 L68.01 591.71 L68.72 592.39 L69.42 593.07 L70.13 593.76 L70.83 594.44 L71.54 595.13 L72.24 595.82 L72.95 596.5 L73.65 597.19 L74.36 597.86 L75.07 598.53 L75.77 599.19 L76.48 599.83 L77.18 600.46 L77.89 601.08 L78.59 601.69 L79.3 602.29 L80 602.88 L80.71 603.47 L81.41 604.05 L82.12 604.63 L82.82 605.21 L83.53 605.78 L84.24 606.35 L84.94 606.93 L85.65 607.51 L86.35 608.08 L87.06 608.67 L87.76 609.25 L88.47 609.83 L89.17 610.41 L89.88 610.98 L90.58 611.54 L91.29 612.1 L91.99 612.65 L92.7 613.19 L93.41 613.71 L94.11 614.22 L94.82 614.72 L95.52 615.2 L96.23 615.67 L96.93 616.12 L97.64 616.55 L98.34 616.96 L99.05 617.36 L99.75 617.75 L100.46 618.11 L101.17 618.47 L101.87 618.8 L102.58 619.13 L103.28 619.44 L103.99 619.74 L104.69 620.03 L105.4 620.31 L106.1 620.58 L106.81 620.85 L107.51 621.1 L108.22 621.35 L108.92 621.59 L109.63 621.82 L110.34 622.04 L111.04 622.25 L111.75 622.45 L112.45 622.63 L113.16 622.81 L113.86 622.97 L114.57 623.13 L115.27 623.27 L115.98 623.41 L116.68 623.54 L117.39 623.67 L118.1 623.79 L118.8 623.89 L119.51 624 L120.21 624.09 L120.92 624.18 L121.62 624.26 L122.33 624.33 L123.03 624.4 L123.74 624.46 L124.44 624.51 L125.15 624.56 L125.85 624.59 L126.56 624.62 L127.27 624.64 L127.97 624.65 L128.68 624.66 L129.38 624.65 L130.09 624.63 L130.79 624.61 L131.5 624.58 L132.2 624.53 L132.91 624.48 L133.61 624.41 L134.32 624.33 L135.03 624.24 L135.73 624.13 L136.44 624.01 L137.14 623.87 L137.85 623.72 L138.55 623.56 L139.26 623.38 L139.96 623.2 L140.67 623 L141.37 622.79 L142.08 622.58 L142.78 622.36 L143.49 622.12 L144.2 621.88 L144.9 621.63 L145.61 621.36 L146.31 621.09 L147.02 620.8 L147.72 620.5 L148.43 620.19 L149.13 619.86 L149.84 619.52 L150.54 619.17 L151.25 618.82 L151.95 618.46 L152.66 618.09 L153.37 617.72 L154.07 617.35 L154.78 616.99 L155.48 616.62 L156.19 616.26 L156.89 615.91 L157.6 615.57 L158.3 615.23 L159.01 614.89 L159.71 614.56 L160.42 614.22 L161.13 613.89 L161.83 613.55 L162.54 613.21 L163.24 612.87 L163.95 612.52 L164.65 612.16 L165.36 611.79 L166.06 611.42 L166.77 611.04 L167.47 610.65 L168.18 610.26 L168.88 609.86 L169.59 609.46 L170.3 609.04 L171 608.62 L171.71 608.2 L172.41 607.77 L173.12 607.34 L173.82 606.9 L174.53 606.46 L175.23 606.01 L175.94 605.57 L176.64 605.13 L177.35 604.69 L178.06 604.25 L178.76 603.82 L179.47 603.38 L180.17 602.96 L180.88 602.53 L181.58 602.11 L182.29 601.68 L182.99 601.25 L183.7 600.81 L184.4 600.37 L185.11 599.92 L185.81 599.46 L186.52 598.99 L187.23 598.51 L187.93 598.02 L188.64 597.52 L189.34 597.01 L190.05 596.49 L190.75 595.98 L191.46 595.45 L192.16 594.93 L192.87 594.4 L193.57 593.88 L194.28 593.36 L194.98 592.84 L195.69 592.32 L196.4 591.81 L197.1 591.3 L197.81 590.79 L198.51 590.28 L199.22 589.77 L199.92 589.27 L200.63 588.76 L201.33 588.26 L202.04 587.75 L202.74 587.25 L203.45 586.75 L204.16 586.24 L204.86 585.73 L205.57 585.21 L206.27 584.69 L206.98 584.16 L207.68 583.62 L208.39 583.08 L209.09 582.53 L209.8 581.98 L210.5 581.43 L211.21 580.87 L211.91 580.31 L212.62 579.74 L213.33 579.18 L214.03 578.61 L214.74 578.05 L215.44 577.49 L216.15 576.93 L216.85 576.38 L217.56 575.83 L218.26 575.29 L218.97 574.74 L219.67 574.2 L220.38 573.65 L221.09 573.1 L221.79 572.55 L222.5 571.99 L223.2 571.43 L223.91 570.86 L224.61 570.28 L225.32 569.69 L226.02 569.1 L226.73 568.5 L227.43 567.89 L228.14 567.28 L228.84 566.66 L229.55 566.04 L230.26 565.43 L230.96 564.82 L231.67 564.21 L232.37 563.61 L233.08 563.02 L233.78 562.44 L234.49 561.87 L235.19 561.3 L235.9 560.74 L236.6 560.18 L237.31 559.63 L238.02 559.08 L238.72 558.54 L239.43 558 L240.13 557.47 L240.84 556.93 L241.54 556.4 L242.25 555.87 L242.95 555.34 L243.66 554.82 L244.36 554.3 L245.07 553.79 L245.77 553.3 L246.48 552.81 L247.19 552.34 L247.89 551.89 L248.6 551.44 L249.3 551 L250.01 550.56 L250.71 550.13 L251.42 549.69 L252.12 549.25 L252.83 548.8 L253.53 548.34 L254.24 547.89 L254.94 547.43 L255.65 546.98 L256.36 546.53 L257.06 546.08 L257.77 545.63 L258.47 545.19 L259.18 544.75 L259.88 544.32 L260.59 543.88 L261.29 543.45 L262 543.02 L262.7 542.59 L263.41 542.16 L264.12 541.74 L264.82 541.33 L265.53 540.93 L266.23 540.54 L266.94 540.18 L267.64 539.83 L268.35 539.51 L269.05 539.19 L269.76 538.89 L270.46 538.6 L271.17 538.33 L271.87 538.05 L272.58 537.78 L273.29 537.51 L273.99 537.25 L274.7 536.98 L275.4 536.71 L276.11 536.45 L276.81 536.19 L277.52 535.94 L278.22 535.7 L278.93 535.46 L279.63 535.23 L280.34 535.01 L281.05 534.81 L281.75 534.61 L282.46 534.43 L283.16 534.25 L283.87 534.08 L284.57 533.92 L285.28 533.76 L285.98 533.61 L286.69 533.47 L287.39 533.33 L288.1 533.2 L288.8 533.07 L289.51 532.94 L290.22 532.82 L290.92 532.7 L291.63 532.58 L292.33 532.46 L293.04 532.35 L293.74 532.24 L294.45 532.14 L295.15 532.04 L295.86 531.94 L296.56 531.85 L297.27 531.76 L297.97 531.68 L298.68 531.61 L299.39 531.54 L300.09 531.48 L300.8 531.43 L301.5 531.38 L302.21 531.34 L302.91 531.31 L303.62 531.29 L304.32 531.27 L305.03 531.26 L305.73 531.25 L306.44 531.25 L307.15 531.26 L307.85 531.27 L308.56 531.29 L309.26 531.31 L309.97 531.34 L310.67 531.37 L311.38 531.41 L312.08 531.45 L312.79 531.49 L313.49 531.54 L314.2 531.59 L314.9 531.65 L315.61 531.71 L316.32 531.78 L317.02 531.85 L317.73 531.93 L318.43 532.01 L319.14 532.1 L319.84 532.2 L320.55 532.3 L321.25 532.4 L321.96 532.51 L322.66 532.63 L323.37 532.76 L324.08 532.88 L324.78 533.02 L325.49 533.15 L326.19 533.3 L326.9 533.44 L327.6 533.59 L328.31 533.74 L329.01 533.89 L329.72 534.05 L330.42 534.21 L331.13 534.37 L331.83 534.52 L332.54 534.68 L333.25 534.84 L333.95 535.01 L334.66 535.17 L335.36 535.33 L336.07 535.5 L336.77 535.67 L337.48 535.84 L338.18 536.02 L338.89 536.19 L339.59 536.38 L340.3 536.56 L341.01 536.75 L341.71 536.94 L342.42 537.14 L343.12 537.34 L343.83 537.55 L344.53 537.76 L345.24 537.98 L345.94 538.21 L346.65 538.43 L347.35 538.67 L348.06 538.91 L348.76 539.15 L349.47 539.41 L350.18 539.66 L350.88 539.93 L351.59 540.2 L352.29 540.47 L353 540.75 L353.7 541.04 L354.41 541.33 L355.11 541.63 L355.82 541.93 L356.52 542.23 L357.23 542.54 L357.93 542.84 L358.64 543.15 L359.35 543.46 L360.05 543.76 L360.76 544.06 L361.46 544.36 L362.17 544.66 L362.87 544.95 L363.58 545.24 L364.28 545.53 L364.99 545.81 L365.69 546.1 L366.4 546.38 L367.11 546.66 L367.81 546.93 L368.52 547.21 L369.22 547.5 L369.93 547.78 L370.63 548.06 L371.34 548.35 L372.04 548.64 L372.75 548.93 L373.45 549.23 L374.16 549.53 L374.86 549.84 L375.57 550.15 L376.28 550.46 L376.98 550.77 L377.69 551.08 L378.39 551.39 L379.1 551.71 L379.8 552.02 L380.51 552.32 L381.21 552.63 L381.92 552.93 L382.62 553.23 L383.33 553.52 L384.04 553.81 L384.74 554.09 L385.45 554.37 L386.15 554.64 L386.86 554.91 L387.56 555.18 L388.27 555.44 L388.97 555.71 L389.68 555.97 L390.38 556.23 L391.09 556.49 L391.79 556.74 L392.5 557" fill="none" stroke="#000" stroke-width="2.4" stroke-linejoin="round" />
<path d="M38 561.42h5v5h-5zM43.03 566.82h5v5h-5zM48.06 572.34h5v5h-5zM53.09 577.22h5v5h-5zM58.11 581.9h5v5h-5zM63.14 586.9h5v5h-5zM68.17 591.78h5v5h-5zM73.2 596.62h5v5h-5zM78.23 600.99h5v5h-5zM83.26 605.1h5v5h-5zM88.29 609.2h5v5h-5zM93.31 612.9h5v5h-5zM98.34 615.81h5v5h-5zM103.37 617.99h5v5h-5zM108.4 619.71h5v5h-5zM113.43 620.9h5v5h-5zM118.46 621.68h5v5h-5zM123.49 622.1h5v5h-5zM128.51 622.1h5v5h-5zM133.54 621.58h5v5h-5zM138.57 620.38h5v5h-5zM143.6 618.67h5v5h-5zM148.63 616.38h5v5h-5zM153.66 613.78h5v5h-5zM158.69 611.36h5v5h-5zM163.71 608.84h5v5h-5zM168.74 605.98h5v5h-5zM173.77 602.86h5v5h-5zM178.8 599.78h5v5h-5zM183.83 596.62h5v5h-5zM188.86 593.03h5v5h-5zM193.89 589.32h5v5h-5zM198.91 585.7h5v5h-5zM203.94 582.06h5v5h-5zM208.97 578.16h5v5h-5zM214 574.16h5v5h-5zM219.03 570.26h5v5h-5zM224.06 566.15h5v5h-5zM229.09 561.78h5v5h-5zM234.11 557.67h5v5h-5zM239.14 553.82h5v5h-5zM244.17 550.18h5v5h-5zM249.2 547.01h5v5h-5zM254.23 543.79h5v5h-5zM259.26 540.67h5v5h-5zM264.29 537.76h5v5h-5zM269.31 535.57h5v5h-5zM274.34 533.68h5v5h-5zM279.37 532.08h5v5h-5zM284.4 530.93h5v5h-5zM289.43 530.03h5v5h-5zM294.46 529.3h5v5h-5zM299.49 528.86h5v5h-5zM304.51 528.76h5v5h-5zM309.54 528.94h5v5h-5zM314.57 529.36h5v5h-5zM319.6 530.04h5v5h-5zM324.63 530.99h5v5h-5zM329.66 532.1h5v5h-5zM334.69 533.27h5v5h-5zM339.71 534.58h5v5h-5zM344.74 536.13h5v5h-5zM349.77 537.96h5v5h-5zM354.8 540.07h5v5h-5zM359.83 542.23h5v5h-5zM364.86 544.26h5v5h-5zM369.89 546.28h5v5h-5zM374.91 548.46h5v5h-5zM379.94 550.65h5v5h-5zM384.97 552.65h5v5h-5zM390 554.5h5v5h-5z" fill="#000"/>
<path d="M40.5 488.88 L41.21 488.68 L41.91 488.48 L42.62 488.3 L43.32 488.13 L44.03 488 L44.73 487.9 L45.44 487.84 L46.14 487.84 L46.85 487.88 L47.55 487.97 L48.26 488.1 L48.96 488.29 L49.67 488.52 L50.38 488.8 L51.08 489.13 L51.79 489.5 L52.49 489.91 L53.2 490.37 L53.9 490.88 L54.61 491.42 L55.31 492.02 L56.02 492.66 L56.72 493.34 L57.43 494.06 L58.14 494.82 L58.84 495.61 L59.55 496.43 L60.25 497.27 L60.96 498.15 L61.66 499.04 L62.37 499.96 L63.07 500.9 L63.78 501.85 L64.48 502.83 L65.19 503.83 L65.89 504.85 L66.6 505.88 L67.31 506.94 L68.01 508.01 L68.72 509.11 L69.42 510.23 L70.13 511.38 L70.83 512.55 L71.54 513.75 L72.24 514.97 L72.95 516.23 L73.65 517.51 L74.36 518.82 L75.07 520.15 L75.77 521.52 L76.48 522.91 L77.18 524.32 L77.89 525.75 L78.59 527.19 L79.3 528.63 L80 530.06 L80.71 531.48 L81.41 532.88 L82.12 534.27 L82.82 535.65 L83.53 537.03 L84.24 538.41 L84.94 539.79 L85.65 541.18 L86.35 542.59 L87.06 544 L87.76 545.43 L88.47 546.87 L89.17 548.31 L89.88 549.75 L90.58 551.18 L91.29 552.61 L91.99 554.04 L92.7 555.46 L93.41 556.89 L94.11 558.31 L94.82 559.75 L95.52 561.19 L96.23 562.63 L96.93 564.09 L97.64 565.55 L98.34 567.01 L99.05 568.46 L99.75 569.9 L100.46 571.32 L101.17 572.72 L101.87 574.09 L102.58 575.44 L103.28 576.77 L103.99 578.07 L104.69 579.35 L105.4 580.61 L106.1 581.84 L106.81 583.05 L107.51 584.24 L108.22 585.41 L108.92 586.57 L109.63 587.7 L110.34 588.82 L111.04 589.93 L111.75 591.02 L112.45 592.1 L113.16 593.17 L113.86 594.22 L114.57 595.25 L115.27 596.27 L115.98 597.27 L116.68 598.25 L117.39 599.21 L118.1 600.16 L118.8 601.09 L119.51 601.99 L120.21 602.88 L120.92 603.75 L121.62 604.6 L122.33 605.43 L123.03 606.24 L123.74 607.02 L124.44 607.78 L125.15 608.52 L125.85 609.23 L126.56 609.92 L127.27 610.58 L127.97 611.22 L128.68 611.83 L129.38 612.42 L130.09 612.98 L130.79 613.52 L131.5 614.03 L132.2 614.52 L132.91 614.99 L133.61 615.43 L134.32 615.85 L135.03 616.26 L135.73 616.64 L136.44 617 L137.14 617.34 L137.85 617.66 L138.55 617.96 L139.26 618.25 L139.96 618.51 L140.67 618.75 L141.37 618.97 L142.08 619.18 L142.78 619.36 L143.49 619.52 L144.2 619.66 L144.9 619.78 L145.61 619.87 L146.31 619.94 L147.02 619.98 L147.72 620 L148.43 619.99 L149.13 619.95 L149.84 619.88 L150.54 619.77 L151.25 619.63 L151.95 619.46 L152.66 619.26 L153.37 619.02 L154.07 618.76 L154.78 618.47 L155.48 618.16 L156.19 617.83 L156.89 617.47 L157.6 617.11 L158.3 616.72 L159.01 616.32 L159.71 615.9 L160.42 615.47 L161.13 615.02 L161.83 614.56 L162.54 614.08 L163.24 613.59 L163.95 613.08 L164.65 612.56 L165.36 612.02 L166.06 611.46 L166.77 610.89 L167.47 610.3 L168.18 609.7 L168.88 609.08 L169.59 608.45 L170.3 607.8 L171 607.15 L171.71 606.48 L172.41 605.81 L173.12 605.12 L173.82 604.43 L174.53 603.73 L175.23 603.03 L175.94 602.32 L176.64 601.6 L177.35 600.88 L178.06 600.16 L178.76 599.43 L179.47 598.69 L180.17 597.96 L180.88 597.22 L181.58 596.48 L182.29 595.74 L182.99 595 L183.7 594.26 L184.4 593.51 L185.11 592.76 L185.81 592 L186.52 591.24 L187.23 590.48 L187.93 589.72 L188.64 588.95 L189.34 588.17 L190.05 587.39 L190.75 586.61 L191.46 585.82 L192.16 585.03 L192.87 584.24 L193.57 583.45 L194.28 582.66 L194.98 581.87 L195.69 581.08 L196.4 580.28 L197.1 579.5 L197.81 578.71 L198.51 577.92 L199.22 577.13 L199.92 576.35 L200.63 575.56 L201.33 574.77 L202.04 573.98 L202.74 573.19 L203.45 572.4 L204.16 571.6 L204.86 570.81 L205.57 570.02 L206.27 569.23 L206.98 568.43 L207.68 567.64 L208.39 566.85 L209.09 566.06 L209.8 565.27 L210.5 564.48 L211.21 563.69 L211.91 562.89 L212.62 562.09 L213.33 561.3 L214.03 560.5 L214.74 559.7 L215.44 558.9 L216.15 558.11 L216.85 557.32 L217.56 556.54 L218.26 555.76 L218.97 554.98 L219.67 554.2 L220.38 553.41 L221.09 552.62 L221.79 551.82 L222.5 551 L223.2 550.18 L223.91 549.35 L224.61 548.51 L225.32 547.66 L226.02 546.81 L226.73 545.96 L227.43 545.11 L228.14 544.26 L228.84 543.41 L229.55 542.56 L230.26 541.72 L230.96 540.89 L231.67 540.07 L232.37 539.25 L233.08 538.45 L233.78 537.65 L234.49 536.87 L235.19 536.11 L235.9 535.36 L236.6 534.62 L237.31 533.9 L238.02 533.2 L238.72 532.51 L239.43 531.83 L240.13 531.17 L240.84 530.52 L241.54 529.89 L242.25 529.27 L242.95 528.66 L243.66 528.07 L244.36 527.48 L245.07 526.91 L245.77 526.36 L246.48 525.81 L247.19 525.28 L247.89 524.75 L248.6 524.24 L249.3 523.74 L250.01 523.24 L250.71 522.76 L251.42 522.28 L252.12 521.82 L252.83 521.36 L253.53 520.91 L254.24 520.47 L254.94 520.04 L255.65 519.62 L256.36 519.2 L257.06 518.78 L257.77 518.38 L258.47 517.98 L259.18 517.59 L259.88 517.2 L260.59 516.81 L261.29 516.44 L262 516.06 L262.7 515.69 L263.41 515.33 L264.12 514.96 L264.82 514.6 L265.53 514.25 L266.23 513.9 L266.94 513.55 L267.64 513.2 L268.35 512.86 L269.05 512.53 L269.76 512.19 L270.46 511.86 L271.17 511.54 L271.87 511.21 L272.58 510.89 L273.29 510.58 L273.99 510.27 L274.7 509.97 L275.4 509.67 L276.11 509.38 L276.81 509.1 L277.52 508.84 L278.22 508.58 L278.93 508.33 L279.63 508.09 L280.34 507.85 L281.05 507.63 L281.75 507.42 L282.46 507.21 L283.16 507.01 L283.87 506.83 L284.57 506.65 L285.28 506.48 L285.98 506.32 L286.69 506.17 L287.39 506.04 L288.1 505.92 L288.8 505.82 L289.51 505.73 L290.22 505.65 L290.92 505.59 L291.63 505.55 L292.33 505.52 L293.04 505.51 L293.74 505.52 L294.45 505.54 L295.15 505.58 L295.86 505.63 L296.56 505.69 L297.27 505.76 L297.97 505.84 L298.68 505.93 L299.39 506.04 L300.09 506.15 L300.8 506.28 L301.5 506.42 L302.21 506.58 L302.91 506.75 L303.62 506.93 L304.32 507.14 L305.03 507.35 L305.73 507.58 L306.44 507.82 L307.15 508.06 L307.85 508.32 L308.56 508.58 L309.26 508.84 L309.97 509.11 L310.67 509.37 L311.38 509.63 L312.08 509.88 L312.79 510.12 L313.49 510.34 L314.2 510.55 L314.9 510.76 L315.61 510.95 L316.32 511.14 L317.02 511.32 L317.73 511.5 L318.43 511.68 L319.14 511.86 L319.84 512.05 L320.55 512.25 L321.25 512.46 L321.96 512.67 L322.66 512.91 L323.37 513.16 L324.08 513.42 L324.78 513.7 L325.49 514 L326.19 514.32 L326.9 514.65 L327.6 515 L328.31 515.36 L329.01 515.73 L329.72 516.12 L330.42 516.52 L331.13 516.94 L331.83 517.36 L332.54 517.8 L333.25 518.25 L333.95 518.71 L334.66 519.18 L335.36 519.65 L336.07 520.14 L336.77 520.63 L337.48 521.14 L338.18 521.64 L338.89 522.16 L339.59 522.68 L340.3 523.2 L341.01 523.73 L341.71 524.27 L342.42 524.8 L343.12 525.34 L343.83 525.88 L344.53 526.42 L345.24 526.96 L345.94 527.5 L346.65 528.04 L347.35 528.58 L348.06 529.12 L348.76 529.65 L349.47 530.19 L350.18 530.71 L350.88 531.24 L351.59 531.76 L352.29 532.27 L353 532.78 L353.7 533.29 L354.41 533.78 L355.11 534.27 L355.82 534.75 L356.52 535.23 L357.23 535.71 L357.93 536.18 L358.64 536.64 L359.35 537.11 L360.05 537.57 L360.76 538.03 L361.46 538.49 L362.17 538.95 L362.87 539.4 L363.58 539.86 L364.28 540.32 L364.99 540.79 L365.69 541.25 L366.4 541.71 L367.11 542.18 L367.81 542.64 L368.52 543.11 L369.22 543.57 L369.93 544.03 L370.63 544.49 L371.34 544.94 L372.04 545.39 L372.75 545.84 L373.45 546.28 L374.16 546.71 L374.86 547.14 L375.57 547.57 L376.28 547.99 L376.98 548.4 L377.69 548.81 L378.39 549.21 L379.1 549.61 L379.8 550.01 L380.51 550.4 L381.21 550.8 L381.92 551.19 L382.62 551.58 L383.33 551.96 L384.04 552.35 L384.74 552.74 L385.45 553.12 L386.15 553.51 L386.86 553.9 L387.56 554.29 L388.27 554.67 L388.97 555.06 L389.68 555.45 L390.38 555.84 L391.09 556.22 L391.79 556.61 L392.5 557" fill="none" stroke="#666" stroke-width="0.8" stroke-linejoin="round" />
<g fill="#fff" stroke="#333" stroke-width="0.8"><circle cx="40.5" cy="488.88" r="2.9"/><circle cx="45.53" cy="487.84" r="2.9"/><circle cx="50.56" cy="488.88" r="2.9"/><circle cx="55.59" cy="492.26" r="2.9"/><circle cx="60.61" cy="497.72" r="2.9"/><circle cx="65.64" cy="504.48" r="2.9"/><circle cx="70.67" cy="512.28" r="2.9"/><circle cx="75.7" cy="521.38" r="2.9"/><circle cx="80.73" cy="531.52" r="2.9"/><circle cx="85.76" cy="541.4" r="2.9"/><circle cx="90.79" cy="551.59" r="2.9"/><circle cx="95.81" cy="561.78" r="2.9"/><circle cx="100.84" cy="572.08" r="2.9"/><circle cx="105.87" cy="581.44" r="2.9"/><circle cx="110.9" cy="589.71" r="2.9"/><circle cx="115.93" cy="597.2" r="2.9"/><circle cx="120.96" cy="603.8" r="2.9"/><circle cx="125.99" cy="609.36" r="2.9"/><circle cx="131.01" cy="613.68" r="2.9"/><circle cx="136.04" cy="616.8" r="2.9"/><circle cx="141.07" cy="618.88" r="2.9"/><circle cx="146.1" cy="619.92" r="2.9"/><circle cx="151.13" cy="619.66" r="2.9"/><circle cx="156.16" cy="617.84" r="2.9"/><circle cx="161.19" cy="614.98" r="2.9"/><circle cx="166.21" cy="611.34" r="2.9"/><circle cx="171.24" cy="606.92" r="2.9"/><circle cx="176.27" cy="601.98" r="2.9"/><circle cx="181.3" cy="596.78" r="2.9"/><circle cx="186.33" cy="591.45" r="2.9"/><circle cx="191.36" cy="585.94" r="2.9"/><circle cx="196.39" cy="580.3" r="2.9"/><circle cx="201.41" cy="574.68" r="2.9"/><circle cx="206.44" cy="569.03" r="2.9"/><circle cx="211.47" cy="563.39" r="2.9"/><circle cx="216.5" cy="557.72" r="2.9"/><circle cx="221.53" cy="552.11" r="2.9"/><circle cx="226.56" cy="546.17" r="2.9"/><circle cx="231.59" cy="540.16" r="2.9"/><circle cx="236.61" cy="534.61" r="2.9"/><circle cx="241.64" cy="529.8" r="2.9"/><circle cx="246.67" cy="525.66" r="2.9"/><circle cx="251.7" cy="522.1" r="2.9"/><circle cx="256.73" cy="518.98" r="2.9"/><circle cx="261.76" cy="516.19" r="2.9"/><circle cx="266.79" cy="513.62" r="2.9"/><circle cx="271.81" cy="511.24" r="2.9"/><circle cx="276.84" cy="509.09" r="2.9"/><circle cx="281.87" cy="507.38" r="2.9"/><circle cx="286.9" cy="506.13" r="2.9"/><circle cx="291.93" cy="505.54" r="2.9"/><circle cx="296.96" cy="505.73" r="2.9"/><circle cx="301.99" cy="506.53" r="2.9"/><circle cx="307.01" cy="508.02" r="2.9"/><circle cx="312.04" cy="509.86" r="2.9"/><circle cx="317.07" cy="511.33" r="2.9"/><circle cx="322.1" cy="512.72" r="2.9"/><circle cx="327.13" cy="514.76" r="2.9"/><circle cx="332.16" cy="517.56" r="2.9"/><circle cx="337.19" cy="520.93" r="2.9"/><circle cx="342.21" cy="524.65" r="2.9"/><circle cx="347.24" cy="528.5" r="2.9"/><circle cx="352.27" cy="532.26" r="2.9"/><circle cx="357.3" cy="535.75" r="2.9"/><circle cx="362.33" cy="539.05" r="2.9"/><circle cx="367.36" cy="542.34" r="2.9"/><circle cx="372.39" cy="545.61" r="2.9"/><circle cx="377.41" cy="548.65" r="2.9"/><circle cx="382.44" cy="551.48" r="2.9"/><circle cx="387.47" cy="554.24" r="2.9"/><circle cx="392.5" cy="557" r="2.9"/></g>
<path d="M40.5 499.38 L41.21 501.19 L41.91 503 L42.62 504.8 L43.32 506.58 L44.03 508.35 L44.73 510.09 L45.44 511.8 L46.14 513.49 L46.85 515.14 L47.55 516.78 L48.26 518.41 L48.96 520.03 L49.67 521.66 L50.38 523.3 L51.08 524.95 L51.79 526.62 L52.49 528.31 L53.2 530 L53.9 531.71 L54.61 533.42 L55.31 535.13 L56.02 536.83 L56.72 538.54 L57.43 540.24 L58.14 541.94 L58.84 543.65 L59.55 545.36 L60.25 547.07 L60.96 548.79 L61.66 550.51 L62.37 552.23 L63.07 553.95 L63.78 555.66 L64.48 557.36 L65.19 559.05 L65.89 560.71 L66.6 562.36 L67.31 563.98 L68.01 565.59 L68.72 567.19 L69.42 568.77 L70.13 570.35 L70.83 571.92 L71.54 573.48 L72.24 575.04 L72.95 576.59 L73.65 578.13 L74.36 579.65 L75.07 581.15 L75.77 582.63 L76.48 584.08 L77.18 585.51 L77.89 586.92 L78.59 588.3 L79.3 589.66 L80 591 L80.71 592.32 L81.41 593.62 L82.12 594.9 L82.82 596.16 L83.53 597.4 L84.24 598.62 L84.94 599.83 L85.65 601.01 L86.35 602.19 L87.06 603.34 L87.76 604.47 L88.47 605.58 L89.17 606.66 L89.88 607.7 L90.58 608.72 L91.29 609.69 L91.99 610.64 L92.7 611.54 L93.41 612.42 L94.11 613.28 L94.82 614.1 L95.52 614.91 L96.23 615.7 L96.93 616.47 L97.64 617.23 L98.34 617.96 L99.05 618.68 L99.75 619.39 L100.46 620.07 L101.17 620.74 L101.87 621.4 L102.58 622.03 L103.28 622.63 L103.99 623.21 L104.69 623.76 L105.4 624.27 L106.1 624.75 L106.81 625.2 L107.51 625.61 L108.22 625.98 L108.92 626.33 L109.63 626.66 L110.34 626.97 L111.04 627.26 L111.75 627.53 L112.45 627.79 L113.16 628.02 L113.86 628.24 L114.57 628.44 L115.27 628.62 L115.98 628.77 L116.68 628.9 L117.39 629.01 L118.1 629.09 L118.8 629.16 L119.51 629.21 L120.21 629.25 L120.92 629.28 L121.62 629.3 L122.33 629.3 L123.03 629.29 L123.74 629.26 L124.44 629.21 L125.15 629.14 L125.85 629.04 L126.56 628.91 L127.27 628.76 L127.97 628.59 L128.68 628.4 L129.38 628.2 L130.09 627.99 L130.79 627.78 L131.5 627.58 L132.2 627.38 L132.91 627.19 L133.61 626.98 L134.32 626.76 L135.03 626.53 L135.73 626.28 L136.44 626 L137.14 625.7 L137.85 625.37 L138.55 625.01 L139.26 624.63 L139.96 624.23 L140.67 623.81 L141.37 623.37 L142.08 622.91 L142.78 622.43 L143.49 621.93 L144.2 621.41 L144.9 620.87 L145.61 620.32 L146.31 619.75 L147.02 619.16 L147.72 618.55 L148.43 617.93 L149.13 617.29 L149.84 616.62 L150.54 615.94 L151.25 615.24 L151.95 614.51 L152.66 613.77 L153.37 613 L154.07 612.21 L154.78 611.39 L155.48 610.56 L156.19 609.71 L156.89 608.87 L157.6 608.02 L158.3 607.18 L159.01 606.36 L159.71 605.56 L160.42 604.79 L161.13 604.05 L161.83 603.33 L162.54 602.64 L163.24 601.97 L163.95 601.31 L164.65 600.66 L165.36 600.01 L166.06 599.36 L166.77 598.71 L167.47 598.05 L168.18 597.38 L168.88 596.69 L169.59 595.97 L170.3 595.23 L171 594.46 L171.71 593.66 L172.41 592.83 L173.12 591.97 L173.82 591.09 L174.53 590.18 L175.23 589.27 L175.94 588.34 L176.64 587.4 L177.35 586.45 L178.06 585.51 L178.76 584.56 L179.47 583.61 L180.17 582.68 L180.88 581.75 L181.58 580.84 L182.29 579.94 L182.99 579.04 L183.7 578.16 L184.4 577.28 L185.11 576.4 L185.81 575.53 L186.52 574.65 L187.23 573.77 L187.93 572.88 L188.64 571.99 L189.34 571.09 L190.05 570.17 L190.75 569.25 L191.46 568.3 L192.16 567.35 L192.87 566.37 L193.57 565.39 L194.28 564.4 L194.98 563.4 L195.69 562.41 L196.4 561.41 L197.1 560.42 L197.81 559.43 L198.51 558.46 L199.22 557.49 L199.92 556.55 L200.63 555.62 L201.33 554.71 L202.04 553.83 L202.74 552.97 L203.45 552.13 L204.16 551.31 L204.86 550.51 L205.57 549.73 L206.27 548.96 L206.98 548.2 L207.68 547.45 L208.39 546.71 L209.09 545.98 L209.8 545.25 L210.5 544.52 L211.21 543.8 L211.91 543.07 L212.62 542.34 L213.33 541.61 L214.03 540.88 L214.74 540.15 L215.44 539.41 L216.15 538.68 L216.85 537.95 L217.56 537.22 L218.26 536.5 L218.97 535.78 L219.67 535.06 L220.38 534.35 L221.09 533.65 L221.79 532.95 L222.5 532.26 L223.2 531.59 L223.91 530.92 L224.61 530.26 L225.32 529.61 L226.02 528.97 L226.73 528.35 L227.43 527.74 L228.14 527.14 L228.84 526.56 L229.55 525.99 L230.26 525.43 L230.96 524.9 L231.67 524.38 L232.37 523.87 L233.08 523.39 L233.78 522.92 L234.49 522.47 L235.19 522.03 L235.9 521.61 L236.6 521.2 L237.31 520.81 L238.02 520.42 L238.72 520.05 L239.43 519.68 L240.13 519.33 L240.84 518.98 L241.54 518.63 L242.25 518.29 L242.95 517.96 L243.66 517.63 L244.36 517.3 L245.07 516.98 L245.77 516.67 L246.48 516.36 L247.19 516.06 L247.89 515.76 L248.6 515.48 L249.3 515.2 L250.01 514.93 L250.71 514.67 L251.42 514.42 L252.12 514.18 L252.83 513.96 L253.53 513.74 L254.24 513.54 L254.94 513.35 L255.65 513.17 L256.36 513 L257.06 512.84 L257.77 512.69 L258.47 512.54 L259.18 512.41 L259.88 512.28 L260.59 512.16 L261.29 512.05 L262 511.94 L262.7 511.84 L263.41 511.74 L264.12 511.65 L264.82 511.56 L265.53 511.47 L266.23 511.39 L266.94 511.32 L267.64 511.25 L268.35 511.19 L269.05 511.14 L269.76 511.09 L270.46 511.05 L271.17 511.02 L271.87 511 L272.58 510.98 L273.29 510.98 L273.99 510.98 L274.7 511 L275.4 511.02 L276.11 511.05 L276.81 511.09 L277.52 511.14 L278.22 511.2 L278.93 511.27 L279.63 511.35 L280.34 511.43 L281.05 511.52 L281.75 511.62 L282.46 511.73 L283.16 511.84 L283.87 511.97 L284.57 512.09 L285.28 512.23 L285.98 512.38 L286.69 512.53 L287.39 512.7 L288.1 512.87 L288.8 513.06 L289.51 513.26 L290.22 513.48 L290.92 513.72 L291.63 513.96 L292.33 514.23 L293.04 514.51 L293.74 514.82 L294.45 515.14 L295.15 515.49 L295.86 515.85 L296.56 516.22 L297.27 516.6 L297.97 516.99 L298.68 517.37 L299.39 517.75 L300.09 518.12 L300.8 518.48 L301.5 518.82 L302.21 519.15 L302.91 519.46 L303.62 519.75 L304.32 520.03 L305.03 520.31 L305.73 520.57 L306.44 520.83 L307.15 521.09 L307.85 521.34 L308.56 521.59 L309.26 521.84 L309.97 522.09 L310.67 522.35 L311.38 522.62 L312.08 522.89 L312.79 523.17 L313.49 523.46 L314.2 523.76 L314.9 524.06 L315.61 524.37 L316.32 524.68 L317.02 525 L317.73 525.33 L318.43 525.66 L319.14 526 L319.84 526.34 L320.55 526.69 L321.25 527.03 L321.96 527.38 L322.66 527.74 L323.37 528.09 L324.08 528.45 L324.78 528.81 L325.49 529.17 L326.19 529.53 L326.9 529.89 L327.6 530.25 L328.31 530.61 L329.01 530.97 L329.72 531.33 L330.42 531.69 L331.13 532.04 L331.83 532.39 L332.54 532.74 L333.25 533.08 L333.95 533.42 L334.66 533.77 L335.36 534.11 L336.07 534.44 L336.77 534.78 L337.48 535.12 L338.18 535.46 L338.89 535.81 L339.59 536.15 L340.3 536.49 L341.01 536.84 L341.71 537.19 L342.42 537.55 L343.12 537.91 L343.83 538.27 L344.53 538.63 L345.24 539 L345.94 539.37 L346.65 539.73 L347.35 540.1 L348.06 540.46 L348.76 540.82 L349.47 541.18 L350.18 541.53 L350.88 541.88 L351.59 542.22 L352.29 542.55 L353 542.88 L353.7 543.2 L354.41 543.52 L355.11 543.83 L355.82 544.13 L356.52 544.43 L357.23 544.73 L357.93 545.02 L358.64 545.31 L359.35 545.6 L360.05 545.88 L360.76 546.17 L361.46 546.46 L362.17 546.74 L362.87 547.03 L363.58 547.32 L364.28 547.61 L364.99 547.89 L365.69 548.18 L366.4 548.47 L367.11 548.76 L367.81 549.04 L368.52 549.33 L369.22 549.61 L369.93 549.89 L370.63 550.16 L371.34 550.43 L372.04 550.7 L372.75 550.97 L373.45 551.23 L374.16 551.48 L374.86 551.74 L375.57 551.98 L376.28 552.23 L376.98 552.47 L377.69 552.7 L378.39 552.93 L379.1 553.16 L379.8 553.39 L380.51 553.61 L381.21 553.83 L381.92 554.04 L382.62 554.25 L383.33 554.46 L384.04 554.67 L384.74 554.87 L385.45 555.07 L386.15 555.27 L386.86 555.47 L387.56 555.66 L388.27 555.86 L388.97 556.05 L389.68 556.24 L390.38 556.43 L391.09 556.62 L391.79 556.81 L392.5 557" fill="none" stroke="#444" stroke-width="0.9" stroke-linejoin="round" />
<path d="M40.5 495.68v7.4M36.98 496.72l7.03 5.33M36.98 502.05l7.03 -5.33M45.53 508.32v7.4M42.01 509.36l7.03 5.33M42.01 514.68l7.03 -5.33M50.56 520.02v7.4M47.04 521.06l7.03 5.33M47.04 526.38l7.03 -5.33M55.59 532.08v7.4M52.07 533.12l7.03 5.33M52.07 538.45l7.03 -5.33M60.61 544.25v7.4M57.1 545.29l7.03 5.33M57.1 550.62l7.03 -5.33M65.64 556.42v7.4M62.13 557.46l7.03 5.33M62.13 562.78l7.03 -5.33M70.67 567.86v7.4M67.16 568.9l7.03 5.33M67.16 574.22l7.03 -5.33M75.7 578.78v7.4M72.19 579.82l7.03 5.33M72.19 585.14l7.03 -5.33M80.73 588.66v7.4M77.21 589.7l7.03 5.33M77.21 595.02l7.03 -5.33M85.76 597.5v7.4M82.24 598.54l7.03 5.33M82.24 603.86l7.03 -5.33M90.79 605.3v7.4M87.27 606.34l7.03 5.33M87.27 611.66l7.03 -5.33M95.81 611.54v7.4M92.3 612.58l7.03 5.33M92.3 617.9l7.03 -5.33M100.84 616.74v7.4M97.33 617.78l7.03 5.33M97.33 623.1l7.03 -5.33M105.87 620.9v7.4M102.36 621.94l7.03 5.33M102.36 627.26l7.03 -5.33M110.9 623.5v7.4M107.39 624.54l7.03 5.33M107.39 629.86l7.03 -5.33M115.93 625.06v7.4M112.41 626.1l7.03 5.33M112.41 631.42l7.03 -5.33M120.96 625.58v7.4M117.44 626.62l7.03 5.33M117.44 631.94l7.03 -5.33M125.99 625.32v7.4M122.47 626.36l7.03 5.33M122.47 631.68l7.03 -5.33M131.01 624.02v7.4M127.5 625.06l7.03 5.33M127.5 630.38l7.03 -5.33M136.04 622.46v7.4M132.53 623.5l7.03 5.33M132.53 628.82l7.03 -5.33M141.07 619.86v7.4M137.56 620.9l7.03 5.33M137.56 626.22l7.03 -5.33M146.1 616.22v7.4M142.59 617.26l7.03 5.33M142.59 622.58l7.03 -5.33M151.13 611.66v7.4M147.61 612.7l7.03 5.33M147.61 618.02l7.03 -5.33M156.16 606.05v7.4M152.64 607.09l7.03 5.33M152.64 612.41l7.03 -5.33M161.19 600.29v7.4M157.67 601.32l7.03 5.33M157.67 606.65l7.03 -5.33M166.21 595.52v7.4M162.7 596.56l7.03 5.33M162.7 601.89l7.03 -5.33M171.24 590.49v7.4M167.73 591.53l7.03 5.33M167.73 596.85l7.03 -5.33M176.27 584.2v7.4M172.76 585.23l7.03 5.33M172.76 590.56l7.03 -5.33M181.3 577.5v7.4M177.79 578.54l7.03 5.33M177.79 583.87l7.03 -5.33M186.33 571.19v7.4M182.81 572.22l7.03 5.33M182.81 577.55l7.03 -5.33M191.36 564.74v7.4M187.84 565.78l7.03 5.33M187.84 571.1l7.03 -5.33M196.39 557.72v7.4M192.87 558.76l7.03 5.33M192.87 564.09l7.03 -5.33M201.41 550.91v7.4M197.9 551.94l7.03 5.33M197.9 557.27l7.03 -5.33M206.44 545.07v7.4M202.93 546.11l7.03 5.33M202.93 551.44l7.03 -5.33M211.47 539.83v7.4M207.96 540.87l7.03 5.33M207.96 546.19l7.03 -5.33M216.5 534.62v7.4M212.99 535.65l7.03 5.33M212.99 540.98l7.03 -5.33M221.53 529.51v7.4M218.01 530.55l7.03 5.33M218.01 535.87l7.03 -5.33M226.56 524.8v7.4M223.04 525.84l7.03 5.33M223.04 531.16l7.03 -5.33M231.59 520.74v7.4M228.07 521.77l7.03 5.33M228.07 527.1l7.03 -5.33M236.61 517.5v7.4M233.1 518.53l7.03 5.33M233.1 523.86l7.03 -5.33M241.64 514.88v7.4M238.13 515.92l7.03 5.33M238.13 521.25l7.03 -5.33M246.67 512.58v7.4M243.16 513.61l7.03 5.33M243.16 518.94l7.03 -5.33M251.7 510.63v7.4M248.19 511.66l7.03 5.33M248.19 516.99l7.03 -5.33M256.73 509.21v7.4M253.21 510.25l7.03 5.33M253.21 515.58l7.03 -5.33M261.76 508.28v7.4M258.24 509.31l7.03 5.33M258.24 514.64l7.03 -5.33M266.79 507.64v7.4M263.27 508.67l7.03 5.33M263.27 514l7.03 -5.33M271.81 507.3v7.4M268.3 508.33l7.03 5.33M268.3 513.66l7.03 -5.33M276.84 507.4v7.4M273.33 508.43l7.03 5.33M273.33 513.76l7.03 -5.33M281.87 507.94v7.4M278.36 508.98l7.03 5.33M278.36 514.3l7.03 -5.33M286.9 508.88v7.4M283.38 509.91l7.03 5.33M283.38 515.24l7.03 -5.33M291.93 510.38v7.4M288.41 511.41l7.03 5.33M288.41 516.74l7.03 -5.33M296.96 512.73v7.4M293.44 513.77l7.03 5.33M293.44 519.1l7.03 -5.33M301.99 515.35v7.4M298.47 516.38l7.03 5.33M298.47 521.71l7.03 -5.33M307.01 517.34v7.4M303.5 518.38l7.03 5.33M303.5 523.7l7.03 -5.33M312.04 519.17v7.4M308.53 520.21l7.03 5.33M308.53 525.54l7.03 -5.33M317.07 521.33v7.4M313.56 522.36l7.03 5.33M313.56 527.69l7.03 -5.33M322.1 523.75v7.4M318.59 524.79l7.03 5.33M318.59 530.12l7.03 -5.33M327.13 526.31v7.4M323.61 527.35l7.03 5.33M323.61 532.68l7.03 -5.33M332.16 528.85v7.4M328.64 529.88l7.03 5.33M328.64 535.21l7.03 -5.33M337.19 531.28v7.4M333.67 532.32l7.03 5.33M333.67 537.65l7.03 -5.33M342.21 533.75v7.4M338.7 534.78l7.03 5.33M338.7 540.11l7.03 -5.33M347.24 536.34v7.4M343.73 537.38l7.03 5.33M343.73 542.7l7.03 -5.33M352.27 538.84v7.4M348.76 539.88l7.03 5.33M348.76 545.21l7.03 -5.33M357.3 541.06v7.4M353.79 542.09l7.03 5.33M353.79 547.42l7.03 -5.33M362.33 543.11v7.4M358.81 544.14l7.03 5.33M358.81 549.47l7.03 -5.33M367.36 545.16v7.4M363.84 546.2l7.03 5.33M363.84 551.52l7.03 -5.33M372.39 547.13v7.4M368.87 548.17l7.03 5.33M368.87 553.5l7.03 -5.33M377.41 548.91v7.4M373.9 549.95l7.03 5.33M373.9 555.28l7.03 -5.33M382.44 550.5v7.4M378.93 551.53l7.03 5.33M378.93 556.86l7.03 -5.33M387.47 551.94v7.4M383.96 552.97l7.03 5.33M383.96 558.3l7.03 -5.33M392.5 553.3v7.4M388.99 554.34l7.03 5.33M388.99 559.66l7.03 -5.33" fill="none" stroke="#1a1a1a" stroke-width="0.85"/>
<path d="M40.5 418.26 L41.21 420.92 L41.91 423.56 L42.62 426.21 L43.32 428.84 L44.03 431.46 L44.73 434.06 L45.44 436.65 L46.14 439.22 L46.85 441.77 L47.55 444.32 L48.26 446.85 L48.96 449.4 L49.67 451.95 L50.38 454.52 L51.08 457.11 L51.79 459.72 L52.49 462.35 L53.2 464.98 L53.9 467.62 L54.61 470.26 L55.31 472.89 L56.02 475.51 L56.72 478.11 L57.43 480.7 L58.14 483.26 L58.84 485.81 L59.55 488.33 L60.25 490.83 L60.96 493.3 L61.66 495.75 L62.37 498.18 L63.07 500.58 L63.78 502.98 L64.48 505.36 L65.19 507.74 L65.89 510.11 L66.6 512.48 L67.31 514.84 L68.01 517.19 L68.72 519.53 L69.42 521.85 L70.13 524.15 L70.83 526.42 L71.54 528.66 L72.24 530.88 L72.95 533.07 L73.65 535.23 L74.36 537.36 L75.07 539.47 L75.77 541.56 L76.48 543.62 L77.18 545.66 L77.89 547.69 L78.59 549.71 L79.3 551.72 L80 553.73 L80.71 555.75 L81.41 557.77 L82.12 559.79 L82.82 561.81 L83.53 563.81 L84.24 565.79 L84.94 567.74 L85.65 569.65 L86.35 571.52 L87.06 573.34 L87.76 575.13 L88.47 576.89 L89.17 578.62 L89.88 580.34 L90.58 582.05 L91.29 583.74 L91.99 585.44 L92.7 587.11 L93.41 588.77 L94.11 590.41 L94.82 592.02 L95.52 593.59 L96.23 595.13 L96.93 596.62 L97.64 598.09 L98.34 599.52 L99.05 600.93 L99.75 602.32 L100.46 603.69 L101.17 605.04 L101.87 606.39 L102.58 607.71 L103.28 609.02 L103.99 610.31 L104.69 611.58 L105.4 612.81 L106.1 614.02 L106.81 615.2 L107.51 616.34 L108.22 617.46 L108.92 618.54 L109.63 619.6 L110.34 620.63 L111.04 621.63 L111.75 622.6 L112.45 623.54 L113.16 624.46 L113.86 625.34 L114.57 626.19 L115.27 627 L115.98 627.77 L116.68 628.51 L117.39 629.21 L118.1 629.88 L118.8 630.53 L119.51 631.14 L120.21 631.74 L120.92 632.32 L121.62 632.88 L122.33 633.42 L123.03 633.95 L123.74 634.46 L124.44 634.95 L125.15 635.41 L125.85 635.86 L126.56 636.27 L127.27 636.67 L127.97 637.04 L128.68 637.39 L129.38 637.71 L130.09 638.01 L130.79 638.3 L131.5 638.56 L132.2 638.8 L132.91 639.01 L133.61 639.2 L134.32 639.36 L135.03 639.5 L135.73 639.59 L136.44 639.66 L137.14 639.69 L137.85 639.69 L138.55 639.66 L139.26 639.6 L139.96 639.51 L140.67 639.39 L141.37 639.25 L142.08 639.09 L142.78 638.91 L143.49 638.7 L144.2 638.47 L144.9 638.21 L145.61 637.92 L146.31 637.61 L147.02 637.27 L147.72 636.9 L148.43 636.5 L149.13 636.08 L149.84 635.63 L150.54 635.16 L151.25 634.65 L151.95 634.12 L152.66 633.56 L153.37 632.98 L154.07 632.37 L154.78 631.74 L155.48 631.08 L156.19 630.39 L156.89 629.69 L157.6 628.96 L158.3 628.21 L159.01 627.45 L159.71 626.67 L160.42 625.88 L161.13 625.08 L161.83 624.28 L162.54 623.47 L163.24 622.64 L163.95 621.8 L164.65 620.95 L165.36 620.07 L166.06 619.18 L166.77 618.26 L167.47 617.32 L168.18 616.36 L168.88 615.38 L169.59 614.38 L170.3 613.36 L171 612.32 L171.71 611.27 L172.41 610.21 L173.12 609.13 L173.82 608.04 L174.53 606.95 L175.23 605.84 L175.94 604.74 L176.64 603.63 L177.35 602.52 L178.06 601.41 L178.76 600.29 L179.47 599.16 L180.17 598.03 L180.88 596.9 L181.58 595.75 L182.29 594.59 L182.99 593.42 L183.7 592.23 L184.4 591.02 L185.11 589.79 L185.81 588.53 L186.52 587.24 L187.23 585.94 L187.93 584.61 L188.64 583.27 L189.34 581.93 L190.05 580.6 L190.75 579.27 L191.46 577.96 L192.16 576.67 L192.87 575.4 L193.57 574.15 L194.28 572.91 L194.98 571.68 L195.69 570.45 L196.4 569.24 L197.1 568.02 L197.81 566.82 L198.51 565.61 L199.22 564.41 L199.92 563.22 L200.63 562.03 L201.33 560.86 L202.04 559.68 L202.74 558.51 L203.45 557.34 L204.16 556.16 L204.86 554.97 L205.57 553.77 L206.27 552.54 L206.98 551.3 L207.68 550.04 L208.39 548.78 L209.09 547.54 L209.8 546.31 L210.5 545.12 L211.21 543.98 L211.91 542.89 L212.62 541.83 L213.33 540.8 L214.03 539.79 L214.74 538.79 L215.44 537.79 L216.15 536.76 L216.85 535.72 L217.56 534.66 L218.26 533.58 L218.97 532.5 L219.67 531.43 L220.38 530.37 L221.09 529.34 L221.79 528.34 L222.5 527.37 L223.2 526.42 L223.91 525.49 L224.61 524.58 L225.32 523.68 L226.02 522.79 L226.73 521.89 L227.43 520.99 L228.14 520.09 L228.84 519.19 L229.55 518.3 L230.26 517.43 L230.96 516.58 L231.67 515.75 L232.37 514.95 L233.08 514.17 L233.78 513.41 L234.49 512.67 L235.19 511.94 L235.9 511.23 L236.6 510.52 L237.31 509.82 L238.02 509.13 L238.72 508.45 L239.43 507.78 L240.13 507.13 L240.84 506.49 L241.54 505.87 L242.25 505.27 L242.95 504.68 L243.66 504.12 L244.36 503.58 L245.07 503.06 L245.77 502.55 L246.48 502.06 L247.19 501.59 L247.89 501.13 L248.6 500.69 L249.3 500.25 L250.01 499.81 L250.71 499.38 L251.42 498.94 L252.12 498.49 L252.83 498.04 L253.53 497.58 L254.24 497.13 L254.94 496.69 L255.65 496.26 L256.36 495.85 L257.06 495.46 L257.77 495.1 L258.47 494.76 L259.18 494.45 L259.88 494.15 L260.59 493.88 L261.29 493.63 L262 493.39 L262.7 493.17 L263.41 492.96 L264.12 492.77 L264.82 492.59 L265.53 492.42 L266.23 492.26 L266.94 492.12 L267.64 491.99 L268.35 491.87 L269.05 491.76 L269.76 491.67 L270.46 491.59 L271.17 491.53 L271.87 491.48 L272.58 491.44 L273.29 491.42 L273.99 491.41 L274.7 491.41 L275.4 491.43 L276.11 491.46 L276.81 491.51 L277.52 491.57 L278.22 491.64 L278.93 491.73 L279.63 491.84 L280.34 491.95 L281.05 492.08 L281.75 492.23 L282.46 492.38 L283.16 492.55 L283.87 492.74 L284.57 492.94 L285.28 493.14 L285.98 493.36 L286.69 493.59 L287.39 493.84 L288.1 494.09 L288.8 494.35 L289.51 494.61 L290.22 494.89 L290.92 495.17 L291.63 495.46 L292.33 495.75 L293.04 496.05 L293.74 496.36 L294.45 496.67 L295.15 496.99 L295.86 497.31 L296.56 497.64 L297.27 497.97 L297.97 498.31 L298.68 498.65 L299.39 499 L300.09 499.36 L300.8 499.72 L301.5 500.09 L302.21 500.47 L302.91 500.85 L303.62 501.24 L304.32 501.63 L305.03 502.03 L305.73 502.44 L306.44 502.85 L307.15 503.26 L307.85 503.68 L308.56 504.1 L309.26 504.53 L309.97 504.96 L310.67 505.39 L311.38 505.83 L312.08 506.27 L312.79 506.71 L313.49 507.15 L314.2 507.59 L314.9 508.04 L315.61 508.48 L316.32 508.93 L317.02 509.38 L317.73 509.82 L318.43 510.27 L319.14 510.72 L319.84 511.16 L320.55 511.61 L321.25 512.05 L321.96 512.5 L322.66 512.94 L323.37 513.38 L324.08 513.82 L324.78 514.26 L325.49 514.7 L326.19 515.14 L326.9 515.58 L327.6 516.03 L328.31 516.47 L329.01 516.92 L329.72 517.38 L330.42 517.84 L331.13 518.3 L331.83 518.77 L332.54 519.25 L333.25 519.74 L333.95 520.23 L334.66 520.73 L335.36 521.24 L336.07 521.76 L336.77 522.28 L337.48 522.81 L338.18 523.34 L338.89 523.88 L339.59 524.43 L340.3 524.98 L341.01 525.53 L341.71 526.08 L342.42 526.64 L343.12 527.2 L343.83 527.75 L344.53 528.31 L345.24 528.87 L345.94 529.43 L346.65 529.99 L347.35 530.54 L348.06 531.09 L348.76 531.64 L349.47 532.18 L350.18 532.72 L350.88 533.25 L351.59 533.78 L352.29 534.3 L353 534.81 L353.7 535.31 L354.41 535.81 L355.11 536.3 L355.82 536.78 L356.52 537.25 L357.23 537.71 L357.93 538.17 L358.64 538.63 L359.35 539.08 L360.05 539.52 L360.76 539.97 L361.46 540.41 L362.17 540.84 L362.87 541.28 L363.58 541.71 L364.28 542.15 L364.99 542.58 L365.69 543.01 L366.4 543.44 L367.11 543.88 L367.81 544.31 L368.52 544.73 L369.22 545.16 L369.93 545.58 L370.63 546 L371.34 546.41 L372.04 546.83 L372.75 547.23 L373.45 547.63 L374.16 548.03 L374.86 548.42 L375.57 548.8 L376.28 549.18 L376.98 549.55 L377.69 549.92 L378.39 550.28 L379.1 550.64 L379.8 551 L380.51 551.35 L381.21 551.69 L381.92 552.04 L382.62 552.38 L383.33 552.72 L384.04 553.06 L384.74 553.39 L385.45 553.72 L386.15 554.06 L386.86 554.39 L387.56 554.72 L388.27 555.04 L388.97 555.37 L389.68 555.7 L390.38 556.02 L391.09 556.35 L391.79 556.67 L392.5 557" fill="none" stroke="#333" stroke-width="0.8" stroke-linejoin="round" />
<g fill="#000"><circle cx="40.5" cy="418.26" r="2.95"/><circle cx="45.53" cy="436.98" r="2.95"/><circle cx="50.56" cy="455.18" r="2.95"/><circle cx="55.59" cy="473.9" r="2.95"/><circle cx="60.61" cy="492.1" r="2.95"/><circle cx="65.64" cy="509.26" r="2.95"/><circle cx="70.67" cy="525.9" r="2.95"/><circle cx="75.7" cy="541.35" r="2.95"/><circle cx="80.73" cy="555.8" r="2.95"/><circle cx="85.76" cy="569.95" r="2.95"/><circle cx="90.79" cy="582.53" r="2.95"/><circle cx="95.81" cy="594.23" r="2.95"/><circle cx="100.84" cy="604.42" r="2.95"/><circle cx="105.87" cy="613.63" r="2.95"/><circle cx="110.9" cy="621.43" r="2.95"/><circle cx="115.93" cy="627.72" r="2.95"/><circle cx="120.96" cy="632.35" r="2.95"/><circle cx="125.99" cy="635.94" r="2.95"/><circle cx="131.01" cy="638.38" r="2.95"/><circle cx="136.04" cy="639.63" r="2.95"/><circle cx="141.07" cy="639.32" r="2.95"/><circle cx="146.1" cy="637.7" r="2.95"/><circle cx="151.13" cy="634.74" r="2.95"/><circle cx="156.16" cy="630.42" r="2.95"/><circle cx="161.19" cy="625.02" r="2.95"/><circle cx="166.21" cy="618.98" r="2.95"/><circle cx="171.24" cy="611.96" r="2.95"/><circle cx="176.27" cy="604.22" r="2.95"/><circle cx="181.3" cy="596.21" r="2.95"/><circle cx="186.33" cy="587.6" r="2.95"/><circle cx="191.36" cy="578.15" r="2.95"/><circle cx="196.39" cy="569.25" r="2.95"/><circle cx="201.41" cy="560.72" r="2.95"/><circle cx="206.44" cy="552.24" r="2.95"/><circle cx="211.47" cy="543.57" r="2.95"/><circle cx="216.5" cy="536.25" r="2.95"/><circle cx="221.53" cy="528.71" r="2.95"/><circle cx="226.56" cy="522.11" r="2.95"/><circle cx="231.59" cy="515.84" r="2.95"/><circle cx="236.61" cy="510.51" r="2.95"/><circle cx="241.64" cy="505.78" r="2.95"/><circle cx="246.67" cy="501.93" r="2.95"/><circle cx="251.7" cy="498.76" r="2.95"/><circle cx="256.73" cy="495.64" r="2.95"/><circle cx="261.76" cy="493.47" r="2.95"/><circle cx="266.79" cy="492.15" r="2.95"/><circle cx="271.81" cy="491.48" r="2.95"/><circle cx="276.84" cy="491.51" r="2.95"/><circle cx="281.87" cy="492.25" r="2.95"/><circle cx="286.9" cy="493.67" r="2.95"/><circle cx="291.93" cy="495.58" r="2.95"/><circle cx="296.96" cy="497.82" r="2.95"/><circle cx="301.99" cy="500.35" r="2.95"/><circle cx="307.01" cy="503.18" r="2.95"/><circle cx="312.04" cy="506.24" r="2.95"/><circle cx="317.07" cy="509.41" r="2.95"/><circle cx="322.1" cy="512.59" r="2.95"/><circle cx="327.13" cy="515.73" r="2.95"/><circle cx="332.16" cy="518.99" r="2.95"/><circle cx="337.19" cy="522.59" r="2.95"/><circle cx="342.21" cy="526.48" r="2.95"/><circle cx="347.24" cy="530.45" r="2.95"/><circle cx="352.27" cy="534.28" r="2.95"/><circle cx="357.3" cy="537.76" r="2.95"/><circle cx="362.33" cy="540.94" r="2.95"/><circle cx="367.36" cy="544.03" r="2.95"/><circle cx="372.39" cy="547.02" r="2.95"/><circle cx="377.41" cy="549.78" r="2.95"/><circle cx="382.44" cy="552.29" r="2.95"/><circle cx="387.47" cy="554.67" r="2.95"/><circle cx="392.5" cy="557" r="2.95"/></g>
<path d="M40.5 514 L41.21 515.76 L41.91 517.52 L42.62 519.28 L43.32 521.03 L44.03 522.77 L44.73 524.5 L45.44 526.22 L46.14 527.91 L46.85 529.59 L47.55 531.24 L48.26 532.87 L48.96 534.47 L49.67 536.05 L50.38 537.59 L51.08 539.1 L51.79 540.59 L52.49 542.05 L53.2 543.5 L53.9 544.92 L54.61 546.34 L55.31 547.74 L56.02 549.13 L56.72 550.51 L57.43 551.89 L58.14 553.28 L58.84 554.66 L59.55 556.05 L60.25 557.44 L60.96 558.84 L61.66 560.23 L62.37 561.63 L63.07 563.03 L63.78 564.42 L64.48 565.8 L65.19 567.18 L65.89 568.55 L66.6 569.91 L67.31 571.25 L68.01 572.58 L68.72 573.9 L69.42 575.19 L70.13 576.47 L70.83 577.72 L71.54 578.95 L72.24 580.16 L72.95 581.34 L73.65 582.5 L74.36 583.64 L75.07 584.76 L75.77 585.86 L76.48 586.95 L77.18 588.01 L77.89 589.06 L78.59 590.08 L79.3 591.1 L80 592.1 L80.71 593.08 L81.41 594.05 L82.12 595.01 L82.82 595.96 L83.53 596.9 L84.24 597.83 L84.94 598.74 L85.65 599.65 L86.35 600.54 L87.06 601.42 L87.76 602.29 L88.47 603.14 L89.17 603.98 L89.88 604.81 L90.58 605.61 L91.29 606.41 L91.99 607.18 L92.7 607.94 L93.41 608.69 L94.11 609.41 L94.82 610.12 L95.52 610.8 L96.23 611.47 L96.93 612.11 L97.64 612.74 L98.34 613.35 L99.05 613.93 L99.75 614.5 L100.46 615.05 L101.17 615.58 L101.87 616.08 L102.58 616.57 L103.28 617.04 L103.99 617.49 L104.69 617.92 L105.4 618.32 L106.1 618.71 L106.81 619.08 L107.51 619.43 L108.22 619.76 L108.92 620.07 L109.63 620.37 L110.34 620.64 L111.04 620.9 L111.75 621.15 L112.45 621.38 L113.16 621.59 L113.86 621.8 L114.57 621.99 L115.27 622.17 L115.98 622.35 L116.68 622.51 L117.39 622.67 L118.1 622.82 L118.8 622.97 L119.51 623.11 L120.21 623.25 L120.92 623.38 L121.62 623.51 L122.33 623.64 L123.03 623.76 L123.74 623.87 L124.44 623.97 L125.15 624.07 L125.85 624.16 L126.56 624.24 L127.27 624.3 L127.97 624.36 L128.68 624.4 L129.38 624.42 L130.09 624.44 L130.79 624.44 L131.5 624.42 L132.2 624.38 L132.91 624.33 L133.61 624.26 L134.32 624.17 L135.03 624.06 L135.73 623.93 L136.44 623.79 L137.14 623.63 L137.85 623.45 L138.55 623.26 L139.26 623.04 L139.96 622.81 L140.67 622.56 L141.37 622.29 L142.08 622 L142.78 621.69 L143.49 621.37 L144.2 621.03 L144.9 620.67 L145.61 620.29 L146.31 619.89 L147.02 619.47 L147.72 619.04 L148.43 618.58 L149.13 618.11 L149.84 617.62 L150.54 617.11 L151.25 616.58 L151.95 616.03 L152.66 615.46 L153.37 614.87 L154.07 614.27 L154.78 613.65 L155.48 613.01 L156.19 612.36 L156.89 611.7 L157.6 611.02 L158.3 610.34 L159.01 609.64 L159.71 608.94 L160.42 608.22 L161.13 607.5 L161.83 606.77 L162.54 606.04 L163.24 605.3 L163.95 604.55 L164.65 603.8 L165.36 603.05 L166.06 602.28 L166.77 601.51 L167.47 600.74 L168.18 599.96 L168.88 599.18 L169.59 598.39 L170.3 597.59 L171 596.79 L171.71 595.99 L172.41 595.18 L173.12 594.37 L173.82 593.54 L174.53 592.71 L175.23 591.87 L175.94 591.01 L176.64 590.15 L177.35 589.27 L178.06 588.37 L178.76 587.46 L179.47 586.53 L180.17 585.6 L180.88 584.65 L181.58 583.7 L182.29 582.74 L182.99 581.78 L183.7 580.82 L184.4 579.86 L185.11 578.9 L185.81 577.95 L186.52 577 L187.23 576.05 L187.93 575.12 L188.64 574.2 L189.34 573.28 L190.05 572.38 L190.75 571.48 L191.46 570.59 L192.16 569.7 L192.87 568.81 L193.57 567.91 L194.28 567 L194.98 566.08 L195.69 565.15 L196.4 564.22 L197.1 563.3 L197.81 562.39 L198.51 561.5 L199.22 560.65 L199.92 559.83 L200.63 559.05 L201.33 558.31 L202.04 557.58 L202.74 556.87 L203.45 556.17 L204.16 555.48 L204.86 554.78 L205.57 554.1 L206.27 553.41 L206.98 552.74 L207.68 552.09 L208.39 551.44 L209.09 550.82 L209.8 550.21 L210.5 549.62 L211.21 549.05 L211.91 548.48 L212.62 547.92 L213.33 547.37 L214.03 546.82 L214.74 546.28 L215.44 545.73 L216.15 545.18 L216.85 544.64 L217.56 544.09 L218.26 543.54 L218.97 542.99 L219.67 542.45 L220.38 541.91 L221.09 541.36 L221.79 540.82 L222.5 540.29 L223.2 539.76 L223.91 539.23 L224.61 538.7 L225.32 538.18 L226.02 537.66 L226.73 537.14 L227.43 536.63 L228.14 536.12 L228.84 535.62 L229.55 535.12 L230.26 534.62 L230.96 534.13 L231.67 533.65 L232.37 533.17 L233.08 532.69 L233.78 532.22 L234.49 531.76 L235.19 531.3 L235.9 530.85 L236.6 530.41 L237.31 529.97 L238.02 529.54 L238.72 529.12 L239.43 528.7 L240.13 528.29 L240.84 527.89 L241.54 527.5 L242.25 527.12 L242.95 526.75 L243.66 526.38 L244.36 526.03 L245.07 525.68 L245.77 525.35 L246.48 525.02 L247.19 524.7 L247.89 524.39 L248.6 524.1 L249.3 523.81 L250.01 523.53 L250.71 523.26 L251.42 523.01 L252.12 522.76 L252.83 522.52 L253.53 522.3 L254.24 522.08 L254.94 521.87 L255.65 521.68 L256.36 521.49 L257.06 521.31 L257.77 521.14 L258.47 520.98 L259.18 520.82 L259.88 520.67 L260.59 520.53 L261.29 520.4 L262 520.27 L262.7 520.15 L263.41 520.04 L264.12 519.93 L264.82 519.83 L265.53 519.73 L266.23 519.64 L266.94 519.56 L267.64 519.48 L268.35 519.42 L269.05 519.36 L269.76 519.3 L270.46 519.26 L271.17 519.22 L271.87 519.19 L272.58 519.17 L273.29 519.15 L273.99 519.15 L274.7 519.15 L275.4 519.15 L276.11 519.17 L276.81 519.19 L277.52 519.23 L278.22 519.27 L278.93 519.31 L279.63 519.36 L280.34 519.42 L281.05 519.49 L281.75 519.56 L282.46 519.64 L283.16 519.73 L283.87 519.82 L284.57 519.91 L285.28 520.01 L285.98 520.12 L286.69 520.23 L287.39 520.35 L288.1 520.48 L288.8 520.61 L289.51 520.74 L290.22 520.89 L290.92 521.04 L291.63 521.2 L292.33 521.36 L293.04 521.53 L293.74 521.71 L294.45 521.9 L295.15 522.1 L295.86 522.3 L296.56 522.51 L297.27 522.72 L297.97 522.95 L298.68 523.17 L299.39 523.4 L300.09 523.64 L300.8 523.88 L301.5 524.12 L302.21 524.37 L302.91 524.61 L303.62 524.86 L304.32 525.11 L305.03 525.36 L305.73 525.62 L306.44 525.87 L307.15 526.12 L307.85 526.37 L308.56 526.62 L309.26 526.86 L309.97 527.11 L310.67 527.36 L311.38 527.6 L312.08 527.84 L312.79 528.08 L313.49 528.31 L314.2 528.54 L314.9 528.77 L315.61 529 L316.32 529.22 L317.02 529.44 L317.73 529.65 L318.43 529.87 L319.14 530.09 L319.84 530.3 L320.55 530.51 L321.25 530.73 L321.96 530.94 L322.66 531.16 L323.37 531.38 L324.08 531.6 L324.78 531.83 L325.49 532.06 L326.19 532.29 L326.9 532.52 L327.6 532.76 L328.31 533 L329.01 533.24 L329.72 533.48 L330.42 533.73 L331.13 533.97 L331.83 534.22 L332.54 534.46 L333.25 534.71 L333.95 534.95 L334.66 535.19 L335.36 535.43 L336.07 535.67 L336.77 535.91 L337.48 536.14 L338.18 536.38 L338.89 536.61 L339.59 536.85 L340.3 537.09 L341.01 537.32 L341.71 537.56 L342.42 537.8 L343.12 538.05 L343.83 538.3 L344.53 538.55 L345.24 538.8 L345.94 539.06 L346.65 539.32 L347.35 539.59 L348.06 539.86 L348.76 540.14 L349.47 540.42 L350.18 540.7 L350.88 540.98 L351.59 541.27 L352.29 541.55 L353 541.85 L353.7 542.14 L354.41 542.43 L355.11 542.73 L355.82 543.02 L356.52 543.32 L357.23 543.62 L357.93 543.92 L358.64 544.22 L359.35 544.52 L360.05 544.82 L360.76 545.12 L361.46 545.42 L362.17 545.72 L362.87 546.02 L363.58 546.32 L364.28 546.61 L364.99 546.91 L365.69 547.21 L366.4 547.51 L367.11 547.8 L367.81 548.1 L368.52 548.39 L369.22 548.68 L369.93 548.97 L370.63 549.25 L371.34 549.53 L372.04 549.81 L372.75 550.08 L373.45 550.34 L374.16 550.61 L374.86 550.86 L375.57 551.11 L376.28 551.35 L376.98 551.59 L377.69 551.82 L378.39 552.05 L379.1 552.28 L379.8 552.5 L380.51 552.72 L381.21 552.94 L381.92 553.16 L382.62 553.38 L383.33 553.61 L384.04 553.83 L384.74 554.07 L385.45 554.3 L386.15 554.55 L386.86 554.8 L387.56 555.06 L388.27 555.32 L388.97 555.6 L389.68 555.87 L390.38 556.15 L391.09 556.43 L391.79 556.72 L392.5 557" fill="none" stroke="#000" stroke-width="1.9" stroke-linejoin="round" />
<path d="M40.5 523.62 L41.21 524.86 L41.91 526.1 L42.62 527.35 L43.32 528.61 L44.03 529.87 L44.73 531.15 L45.44 532.44 L46.14 533.75 L46.85 535.07 L47.55 536.39 L48.26 537.7 L48.96 539 L49.67 540.27 L50.38 541.5 L51.08 542.7 L51.79 543.86 L52.49 544.99 L53.2 546.1 L53.9 547.19 L54.61 548.27 L55.31 549.35 L56.02 550.44 L56.72 551.54 L57.43 552.64 L58.14 553.74 L58.84 554.84 L59.55 555.94 L60.25 557.02 L60.96 558.09 L61.66 559.15 L62.37 560.19 L63.07 561.22 L63.78 562.23 L64.48 563.24 L65.19 564.22 L65.89 565.2 L66.6 566.16 L67.31 567.12 L68.01 568.06 L68.72 569.01 L69.42 569.95 L70.13 570.89 L70.83 571.83 L71.54 572.77 L72.24 573.71 L72.95 574.65 L73.65 575.58 L74.36 576.49 L75.07 577.38 L75.77 578.25 L76.48 579.09 L77.18 579.91 L77.89 580.71 L78.59 581.49 L79.3 582.25 L80 583.01 L80.71 583.76 L81.41 584.5 L82.12 585.23 L82.82 585.95 L83.53 586.64 L84.24 587.31 L84.94 587.94 L85.65 588.53 L86.35 589.07 L87.06 589.57 L87.76 590.03 L88.47 590.46 L89.17 590.85 L89.88 591.23 L90.58 591.58 L91.29 591.93 L91.99 592.27 L92.7 592.6 L93.41 592.94 L94.11 593.28 L94.82 593.64 L95.52 594.02 L96.23 594.42 L96.93 594.84 L97.64 595.27 L98.34 595.71 L99.05 596.14 L99.75 596.55 L100.46 596.94 L101.17 597.3 L101.87 597.63 L102.58 597.92 L103.28 598.19 L103.99 598.44 L104.69 598.66 L105.4 598.88 L106.1 599.08 L106.81 599.28 L107.51 599.47 L108.22 599.66 L108.92 599.83 L109.63 599.99 L110.34 600.15 L111.04 600.29 L111.75 600.42 L112.45 600.54 L113.16 600.65 L113.86 600.74 L114.57 600.82 L115.27 600.89 L115.98 600.94 L116.68 600.99 L117.39 601.01 L118.1 601.03 L118.8 601.03 L119.51 601.02 L120.21 600.99 L120.92 600.94 L121.62 600.88 L122.33 600.81 L123.03 600.72 L123.74 600.63 L124.44 600.52 L125.15 600.41 L125.85 600.29 L126.56 600.16 L127.27 600.03 L127.97 599.9 L128.68 599.76 L129.38 599.61 L130.09 599.45 L130.79 599.28 L131.5 599.1 L132.2 598.91 L132.91 598.71 L133.61 598.51 L134.32 598.3 L135.03 598.1 L135.73 597.9 L136.44 597.72 L137.14 597.53 L137.85 597.35 L138.55 597.17 L139.26 596.98 L139.96 596.77 L140.67 596.55 L141.37 596.31 L142.08 596.05 L142.78 595.77 L143.49 595.48 L144.2 595.19 L144.9 594.9 L145.61 594.62 L146.31 594.36 L147.02 594.12 L147.72 593.89 L148.43 593.67 L149.13 593.45 L149.84 593.22 L150.54 592.98 L151.25 592.73 L151.95 592.46 L152.66 592.17 L153.37 591.86 L154.07 591.54 L154.78 591.21 L155.48 590.87 L156.19 590.53 L156.89 590.18 L157.6 589.82 L158.3 589.47 L159.01 589.11 L159.71 588.75 L160.42 588.39 L161.13 588.02 L161.83 587.66 L162.54 587.29 L163.24 586.92 L163.95 586.55 L164.65 586.19 L165.36 585.82 L166.06 585.47 L166.77 585.12 L167.47 584.77 L168.18 584.41 L168.88 584.05 L169.59 583.67 L170.3 583.27 L171 582.84 L171.71 582.38 L172.41 581.9 L173.12 581.4 L173.82 580.9 L174.53 580.4 L175.23 579.9 L175.94 579.42 L176.64 578.95 L177.35 578.48 L178.06 578.02 L178.76 577.55 L179.47 577.07 L180.17 576.59 L180.88 576.08 L181.58 575.57 L182.29 575.04 L182.99 574.52 L183.7 574 L184.4 573.49 L185.11 573 L185.81 572.54 L186.52 572.09 L187.23 571.66 L187.93 571.23 L188.64 570.8 L189.34 570.35 L190.05 569.89 L190.75 569.41 L191.46 568.9 L192.16 568.37 L192.87 567.82 L193.57 567.25 L194.28 566.68 L194.98 566.11 L195.69 565.54 L196.4 564.97 L197.1 564.4 L197.81 563.85 L198.51 563.31 L199.22 562.79 L199.92 562.28 L200.63 561.79 L201.33 561.32 L202.04 560.87 L202.74 560.42 L203.45 559.97 L204.16 559.51 L204.86 559.04 L205.57 558.54 L206.27 558.02 L206.98 557.48 L207.68 556.92 L208.39 556.34 L209.09 555.75 L209.8 555.16 L210.5 554.58 L211.21 554 L211.91 553.43 L212.62 552.87 L213.33 552.33 L214.03 551.8 L214.74 551.29 L215.44 550.8 L216.15 550.32 L216.85 549.87 L217.56 549.43 L218.26 549 L218.97 548.58 L219.67 548.17 L220.38 547.76 L221.09 547.36 L221.79 546.95 L222.5 546.54 L223.2 546.12 L223.91 545.7 L224.61 545.27 L225.32 544.83 L226.02 544.38 L226.73 543.92 L227.43 543.45 L228.14 542.97 L228.84 542.48 L229.55 541.99 L230.26 541.48 L230.96 540.97 L231.67 540.45 L232.37 539.93 L233.08 539.42 L233.78 538.9 L234.49 538.4 L235.19 537.91 L235.9 537.43 L236.6 536.97 L237.31 536.54 L238.02 536.12 L238.72 535.71 L239.43 535.32 L240.13 534.95 L240.84 534.58 L241.54 534.23 L242.25 533.89 L242.95 533.56 L243.66 533.23 L244.36 532.92 L245.07 532.61 L245.77 532.31 L246.48 532.02 L247.19 531.73 L247.89 531.45 L248.6 531.18 L249.3 530.91 L250.01 530.65 L250.71 530.39 L251.42 530.14 L252.12 529.89 L252.83 529.65 L253.53 529.41 L254.24 529.18 L254.94 528.95 L255.65 528.73 L256.36 528.52 L257.06 528.31 L257.77 528.11 L258.47 527.92 L259.18 527.74 L259.88 527.56 L260.59 527.4 L261.29 527.25 L262 527.11 L262.7 526.98 L263.41 526.85 L264.12 526.74 L264.82 526.63 L265.53 526.53 L266.23 526.43 L266.94 526.34 L267.64 526.24 L268.35 526.16 L269.05 526.08 L269.76 526 L270.46 525.94 L271.17 525.89 L271.87 525.84 L272.58 525.82 L273.29 525.8 L273.99 525.8 L274.7 525.82 L275.4 525.85 L276.11 525.89 L276.81 525.94 L277.52 526 L278.22 526.08 L278.93 526.16 L279.63 526.25 L280.34 526.35 L281.05 526.45 L281.75 526.56 L282.46 526.67 L283.16 526.79 L283.87 526.91 L284.57 527.04 L285.28 527.17 L285.98 527.31 L286.69 527.45 L287.39 527.61 L288.1 527.77 L288.8 527.94 L289.51 528.12 L290.22 528.3 L290.92 528.5 L291.63 528.71 L292.33 528.93 L293.04 529.16 L293.74 529.39 L294.45 529.63 L295.15 529.88 L295.86 530.13 L296.56 530.38 L297.27 530.63 L297.97 530.88 L298.68 531.14 L299.39 531.39 L300.09 531.63 L300.8 531.87 L301.5 532.11 L302.21 532.34 L302.91 532.57 L303.62 532.79 L304.32 533.01 L305.03 533.23 L305.73 533.45 L306.44 533.67 L307.15 533.89 L307.85 534.12 L308.56 534.34 L309.26 534.58 L309.97 534.81 L310.67 535.06 L311.38 535.31 L312.08 535.57 L312.79 535.84 L313.49 536.11 L314.2 536.4 L314.9 536.69 L315.61 536.98 L316.32 537.28 L317.02 537.59 L317.73 537.9 L318.43 538.21 L319.14 538.52 L319.84 538.84 L320.55 539.16 L321.25 539.48 L321.96 539.8 L322.66 540.11 L323.37 540.43 L324.08 540.75 L324.78 541.06 L325.49 541.37 L326.19 541.68 L326.9 541.99 L327.6 542.28 L328.31 542.58 L329.01 542.87 L329.72 543.15 L330.42 543.43 L331.13 543.7 L331.83 543.96 L332.54 544.22 L333.25 544.46 L333.95 544.7 L334.66 544.94 L335.36 545.17 L336.07 545.39 L336.77 545.62 L337.48 545.84 L338.18 546.05 L338.89 546.27 L339.59 546.48 L340.3 546.69 L341.01 546.91 L341.71 547.12 L342.42 547.34 L343.12 547.56 L343.83 547.78 L344.53 548 L345.24 548.22 L345.94 548.44 L346.65 548.67 L347.35 548.89 L348.06 549.11 L348.76 549.33 L349.47 549.55 L350.18 549.77 L350.88 549.98 L351.59 550.19 L352.29 550.4 L353 550.61 L353.7 550.81 L354.41 551 L355.11 551.19 L355.82 551.38 L356.52 551.57 L357.23 551.75 L357.93 551.93 L358.64 552.1 L359.35 552.27 L360.05 552.43 L360.76 552.6 L361.46 552.75 L362.17 552.91 L362.87 553.06 L363.58 553.21 L364.28 553.35 L364.99 553.49 L365.69 553.63 L366.4 553.76 L367.11 553.9 L367.81 554.03 L368.52 554.16 L369.22 554.28 L369.93 554.41 L370.63 554.53 L371.34 554.65 L372.04 554.78 L372.75 554.9 L373.45 555.02 L374.16 555.14 L374.86 555.26 L375.57 555.38 L376.28 555.49 L376.98 555.61 L377.69 555.73 L378.39 555.85 L379.1 555.96 L379.8 556.08 L380.51 556.19 L381.21 556.31 L381.92 556.42 L382.62 556.53 L383.33 556.64 L384.04 556.76 L384.74 556.87 L385.45 556.97 L386.15 557.08 L386.86 557.19 L387.56 557.3 L388.27 557.4 L388.97 557.51 L389.68 557.62 L390.38 557.72 L391.09 557.83 L391.79 557.93 L392.5 558.04" fill="none" stroke="#8a8a4a" stroke-width="0.8" stroke-linejoin="round" />
<g><use href="#sph" x="40.5" y="523.62"/><use href="#sph" x="45.53" y="532.61"/><use href="#sph" x="50.56" y="541.82"/><use href="#sph" x="55.59" y="549.77"/><use href="#sph" x="60.61" y="557.57"/><use href="#sph" x="65.64" y="564.85"/><use href="#sph" x="70.67" y="571.61"/><use href="#sph" x="75.7" y="578.16"/><use href="#sph" x="80.73" y="583.78"/><use href="#sph" x="85.76" y="588.62"/><use href="#sph" x="90.79" y="591.68"/><use href="#sph" x="95.81" y="594.18"/><use href="#sph" x="100.84" y="597.14"/><use href="#sph" x="105.87" y="599.02"/><use href="#sph" x="110.9" y="600.26"/><use href="#sph" x="115.93" y="600.94"/><use href="#sph" x="120.96" y="600.94"/><use href="#sph" x="125.99" y="600.26"/><use href="#sph" x="131.01" y="599.22"/><use href="#sph" x="136.04" y="597.82"/><use href="#sph" x="141.07" y="596.42"/><use href="#sph" x="146.1" y="594.44"/><use href="#sph" x="151.13" y="592.78"/><use href="#sph" x="156.16" y="590.54"/><use href="#sph" x="161.19" y="587.99"/><use href="#sph" x="166.21" y="585.39"/><use href="#sph" x="171.24" y="582.68"/><use href="#sph" x="176.27" y="579.2"/><use href="#sph" x="181.3" y="575.77"/><use href="#sph" x="186.33" y="572.21"/><use href="#sph" x="191.36" y="568.97"/><use href="#sph" x="196.39" y="564.97"/><use href="#sph" x="201.41" y="561.27"/><use href="#sph" x="206.44" y="557.89"/><use href="#sph" x="211.47" y="553.79"/><use href="#sph" x="216.5" y="550.09"/><use href="#sph" x="221.53" y="547.1"/><use href="#sph" x="226.56" y="544.04"/><use href="#sph" x="231.59" y="540.51"/><use href="#sph" x="236.61" y="536.97"/><use href="#sph" x="241.64" y="534.18"/><use href="#sph" x="246.67" y="531.94"/><use href="#sph" x="251.7" y="530.04"/><use href="#sph" x="256.73" y="528.41"/><use href="#sph" x="261.76" y="527.15"/><use href="#sph" x="266.79" y="526.36"/><use href="#sph" x="271.81" y="525.85"/><use href="#sph" x="276.84" y="525.94"/><use href="#sph" x="281.87" y="526.58"/><use href="#sph" x="286.9" y="527.5"/><use href="#sph" x="291.93" y="528.81"/><use href="#sph" x="296.96" y="530.52"/><use href="#sph" x="301.99" y="532.27"/><use href="#sph" x="307.01" y="533.85"/><use href="#sph" x="312.04" y="535.55"/><use href="#sph" x="317.07" y="537.61"/><use href="#sph" x="322.1" y="539.86"/><use href="#sph" x="327.13" y="542.08"/><use href="#sph" x="332.16" y="544.08"/><use href="#sph" x="337.19" y="545.74"/><use href="#sph" x="342.21" y="547.28"/><use href="#sph" x="347.24" y="548.86"/><use href="#sph" x="352.27" y="550.4"/><use href="#sph" x="357.3" y="551.77"/><use href="#sph" x="362.33" y="552.94"/><use href="#sph" x="367.36" y="553.94"/><use href="#sph" x="372.39" y="554.83"/><use href="#sph" x="377.41" y="555.68"/><use href="#sph" x="382.44" y="556.5"/><use href="#sph" x="387.47" y="557.28"/><use href="#sph" x="392.5" y="558.04"/></g>
</g>
<text transform="translate(-0.6 374.4) scale(1.08 1)" font-family="'Liberation Sans', Arial, Helvetica, sans-serif" font-size="18.6" font-weight="bold" fill="#111" stroke="#111" stroke-width="0.5">c</text>
<path d="M111.3 390.8H141.2" stroke="#000" stroke-width="2.2"/>
<path d="M124.1 388.4h4.8v4.8h-4.8z" fill="#000"/>
<path d="M111.3 406.9H141.2" stroke="#888" stroke-width="1"/>
<g fill="#fff" stroke="#333" stroke-width="0.8"><circle cx="126.5" cy="406.9" r="2.8"/></g>
<path d="M111.3 422.9H141.2" stroke="#999" stroke-width="1.2"/>
<g fill="#000"><circle cx="126.5" cy="422.9" r="2.8"/></g>
<path d="M111.3 439.2H141.2" stroke="#000" stroke-width="2"/>
<path d="M111.3 455.5H141.2" stroke="#777" stroke-width="0.9"/>
<path d="M126.5 451.8v7.4M122.98 452.84l7.03 5.33M122.98 458.16l7.03 -5.33" fill="none" stroke="#1a1a1a" stroke-width="0.85"/>
<path d="M111.3 471.7H141.2" stroke="#b9b978" stroke-width="1"/>
<use href="#sph2" x="126.5" y="471.7"/>
<g font-family="'Liberation Sans', Arial, Helvetica, sans-serif" font-size="13" fill="#111">
<text x="145.1" y="395.3">0 hr</text>
<text x="145.1" y="411.4">1 hr</text>
<text x="145.1" y="427.4">2 hr</text>
<text x="145.1" y="443.7">3 hr</text>
<text x="145.1" y="460">24hr</text>
<text x="145.1" y="476.2">After Washing</text>
</g>
</svg>
</body></html>
